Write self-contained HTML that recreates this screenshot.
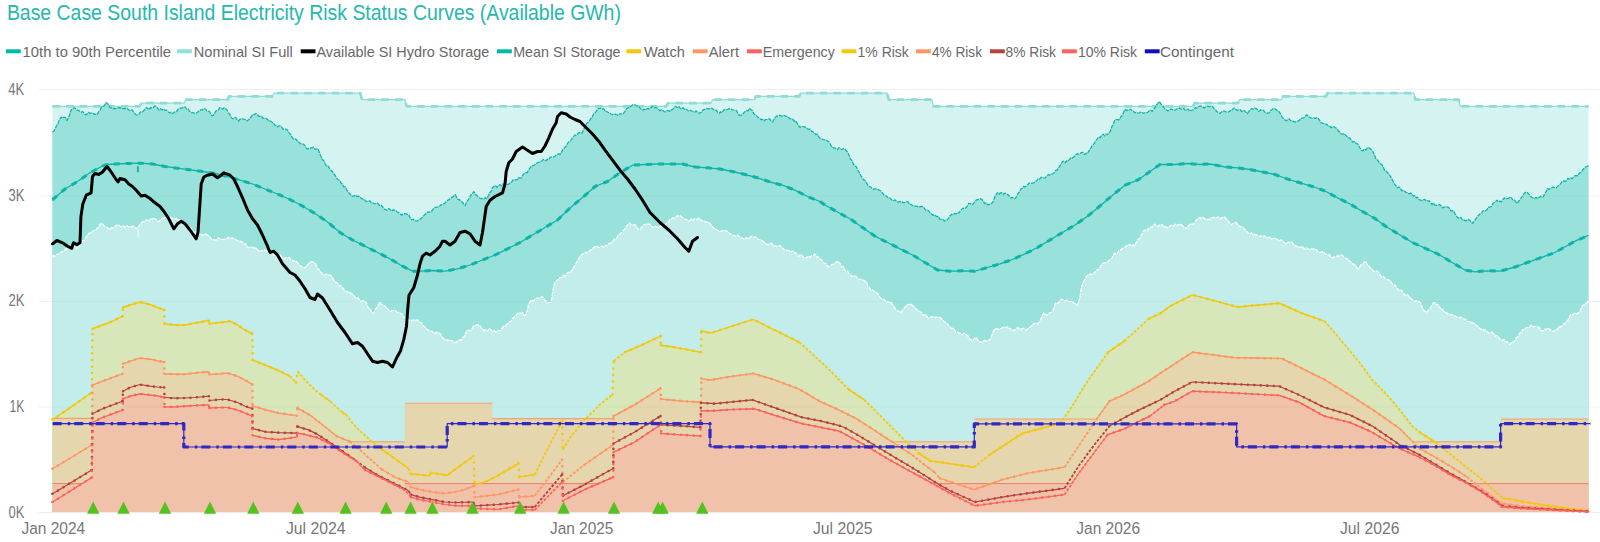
<!DOCTYPE html>
<html><head><meta charset="utf-8"><title>Risk Status Curves</title>
<style>html,body{margin:0;padding:0;background:#fff;width:1600px;height:542px;overflow:hidden}
svg{display:block;font-family:"Liberation Sans",sans-serif}</style></head>
<body>
<svg width="1600" height="542" viewBox="0 0 1600 542" font-family="Liberation Sans, sans-serif"><rect x="0" y="0" width="1600" height="542" fill="#ffffff"/>
<line x1="39" y1="89.5" x2="1600" y2="89.5" stroke="#efefef" stroke-width="1.2"/>
<line x1="39" y1="196.0" x2="1600" y2="196.0" stroke="#efefef" stroke-width="1.2"/>
<line x1="39" y1="301.5" x2="1600" y2="301.5" stroke="#efefef" stroke-width="1.2"/>
<line x1="39" y1="407.0" x2="1600" y2="407.0" stroke="#efefef" stroke-width="1.2"/>
<line x1="39" y1="512.5" x2="1600" y2="512.5" stroke="#ececec" stroke-width="1"/>
<polygon points="52.4,512.0 52.4,106.3 53.0,106.3 97.7,106.3 139.6,106.3 141.1,103.1 184.3,103.1 185.8,99.7 227.6,99.7 229.1,96.3 272.4,96.3 273.9,93.2 315.7,93.2 360.4,93.2 361.9,99.7 405.1,99.7 406.6,106.3 448.4,106.3 493.2,106.3 536.5,106.3 581.2,106.3 626.0,106.3 666.4,106.3 667.9,103.1 711.1,103.1 712.6,99.7 754.4,99.7 755.9,96.3 799.1,96.3 800.6,93.2 842.4,93.2 887.2,93.2 888.7,99.7 931.9,99.7 933.4,106.3 975.2,106.3 1019.9,106.3 1063.2,106.3 1108.0,106.3 1152.7,106.3 1193.1,106.3 1194.6,103.1 1237.9,103.1 1239.4,99.7 1281.2,99.7 1282.7,96.3 1325.9,96.3 1327.4,93.2 1369.2,93.2 1413.9,93.2 1415.4,99.7 1458.7,99.7 1460.2,106.3 1502.0,106.3 1546.7,106.3 1588.5,106.3 1588.5,512.0" fill="#d5f3f1" />
<polygon points="52.4,512.0 52.4,132.0 53.8,131.3 55.3,128.4 56.7,125.5 58.2,123.0 59.6,119.5 61.1,117.1 62.5,118.3 63.9,117.1 65.4,117.6 66.8,120.6 68.3,118.3 69.7,114.8 71.2,109.9 72.6,109.5 74.0,107.8 75.5,108.5 76.9,110.2 78.4,110.3 79.8,111.3 81.3,112.3 82.7,111.5 84.2,113.6 85.6,114.8 87.0,114.1 88.5,112.3 89.9,113.5 91.4,112.8 92.8,113.4 94.3,114.3 95.7,114.2 97.1,114.8 98.6,112.0 100.0,110.3 101.5,107.4 102.9,106.5 104.4,105.4 105.8,102.5 107.2,103.4 108.7,104.9 110.1,107.6 111.6,107.8 113.0,108.7 114.5,108.4 115.9,108.6 117.3,108.1 118.8,107.6 120.2,107.8 121.7,107.9 123.1,108.7 124.6,108.4 126.0,108.8 127.4,108.7 128.9,110.1 130.3,110.5 131.8,109.6 133.2,111.6 134.7,113.5 136.1,114.8 137.5,115.0 139.0,114.2 140.4,111.9 141.9,112.2 143.3,111.2 144.8,109.5 146.2,107.5 147.7,108.5 149.1,109.6 150.5,107.4 152.0,108.2 153.4,107.4 154.9,106.0 156.3,106.4 157.8,108.4 159.2,110.0 160.6,108.7 162.1,110.0 163.5,109.0 165.0,110.4 166.4,110.1 167.9,111.6 169.3,112.8 170.7,112.3 172.2,113.8 173.6,112.8 175.1,111.8 176.5,111.6 178.0,109.4 179.4,108.4 180.8,108.0 182.3,108.0 183.7,107.3 185.2,106.8 186.6,109.2 188.1,109.0 189.5,111.3 190.9,112.8 192.4,112.5 193.8,113.0 195.3,113.5 196.7,112.8 198.2,111.8 199.6,110.7 201.0,109.8 202.5,109.8 203.9,108.4 205.4,109.0 206.8,110.9 208.3,111.0 209.7,111.9 211.2,115.0 212.6,115.8 214.0,114.5 215.5,111.6 216.9,110.6 218.4,110.1 219.8,107.6 221.3,108.5 222.7,109.1 224.1,107.7 225.6,108.7 227.0,110.0 228.5,112.9 229.9,114.6 231.4,117.6 232.8,118.8 234.2,117.7 235.7,117.5 237.1,119.6 238.6,121.0 240.0,119.2 241.5,118.7 242.9,119.0 244.3,119.3 245.8,120.1 247.2,120.9 248.7,119.6 250.1,118.4 251.6,116.1 253.0,114.2 254.4,114.6 255.9,113.5 257.3,114.7 258.8,116.3 260.2,116.3 261.7,116.3 263.1,118.4 264.6,118.2 266.0,118.3 267.4,119.4 268.9,121.2 270.3,121.0 271.8,122.0 273.2,123.0 274.7,125.2 276.1,125.3 277.5,126.8 279.0,125.8 280.4,126.0 281.9,127.4 283.3,129.3 284.8,129.4 286.2,129.2 287.6,130.2 289.1,132.9 290.5,134.2 292.0,137.2 293.4,139.2 294.9,138.9 296.3,139.4 297.7,141.5 299.2,142.4 300.6,143.7 302.1,143.9 303.5,144.2 305.0,145.6 306.4,148.6 307.8,148.9 309.3,148.2 310.7,147.9 312.2,147.6 313.6,147.2 315.1,149.5 316.5,149.0 317.9,148.7 319.4,152.5 320.8,156.1 322.3,159.5 323.7,160.6 325.2,163.7 326.6,166.2 328.1,166.2 329.5,168.2 330.9,170.2 332.4,171.5 333.8,173.7 335.3,175.6 336.7,178.1 338.2,179.8 339.6,180.4 341.0,183.0 342.5,184.2 343.9,187.0 345.4,186.9 346.8,190.1 348.3,191.9 349.7,193.8 351.1,195.1 352.6,196.2 354.0,196.2 355.5,194.9 356.9,196.6 358.4,196.2 359.8,196.6 361.2,198.3 362.7,199.1 364.1,199.3 365.6,201.2 367.0,201.5 368.5,201.1 369.9,200.8 371.3,202.6 372.8,202.7 374.2,203.9 375.7,203.5 377.1,203.0 378.6,204.2 380.0,206.0 381.4,205.4 382.9,207.3 384.3,209.0 385.8,209.8 387.2,210.4 388.7,208.6 390.1,209.6 391.6,211.1 393.0,209.8 394.4,210.1 395.9,210.7 397.3,212.0 398.8,212.8 400.2,213.7 401.7,215.2 403.1,213.9 404.5,213.6 406.0,213.9 407.4,214.4 408.9,214.9 410.3,218.2 411.8,219.9 413.2,219.2 414.6,220.5 416.1,221.1 417.5,221.0 419.0,219.5 420.4,219.0 421.9,217.8 423.3,216.3 424.7,214.6 426.2,213.6 427.6,212.0 429.1,212.0 430.5,212.1 432.0,210.8 433.4,208.8 434.8,207.6 436.3,207.1 437.7,207.0 439.2,206.8 440.6,204.9 442.1,204.6 443.5,204.1 445.0,203.0 446.4,201.4 447.8,200.2 449.3,199.7 450.7,198.0 452.2,197.4 453.6,196.2 455.1,194.7 456.5,196.9 457.9,199.4 459.4,199.7 460.8,201.1 462.3,202.0 463.7,204.1 465.2,205.5 466.6,201.8 468.0,200.2 469.5,197.9 470.9,194.9 472.4,193.7 473.8,191.7 475.3,194.0 476.7,195.2 478.1,196.9 479.6,198.0 481.0,198.3 482.5,198.8 483.9,198.8 485.4,197.7 486.8,198.7 488.2,196.0 489.7,192.7 491.1,191.5 492.6,187.5 494.0,186.4 495.5,185.7 496.9,187.4 498.3,186.0 499.8,184.6 501.2,185.8 502.7,184.0 504.1,184.8 505.6,184.4 507.0,184.4 508.5,184.4 509.9,183.0 511.3,182.7 512.8,180.0 514.2,180.5 515.7,179.7 517.1,179.7 518.6,177.6 520.0,178.1 521.4,178.0 522.9,174.9 524.3,173.3 525.8,172.7 527.2,172.6 528.7,170.0 530.1,167.8 531.5,166.1 533.0,165.6 534.4,165.1 535.9,163.7 537.3,162.8 538.8,162.2 540.2,161.5 541.6,161.1 543.1,159.6 544.5,159.6 546.0,160.7 547.4,159.3 548.9,159.2 550.3,157.1 551.7,157.2 553.2,157.1 554.6,156.5 556.1,155.3 557.5,154.3 559.0,153.9 560.4,154.1 561.8,151.6 563.3,148.8 564.7,147.6 566.2,146.3 567.6,143.4 569.1,141.7 570.5,141.0 572.0,138.5 573.4,136.9 574.8,135.2 576.3,135.1 577.7,133.8 579.2,132.5 580.6,132.6 582.1,133.1 583.5,129.6 584.9,127.3 586.4,123.8 587.8,122.4 589.3,121.0 590.7,118.9 592.2,117.0 593.6,114.1 595.0,112.8 596.5,110.8 597.9,108.6 599.4,108.5 600.8,108.2 602.3,109.2 603.7,108.6 605.1,111.3 606.6,111.5 608.0,112.3 609.5,112.7 610.9,114.0 612.4,114.7 613.8,114.4 615.2,114.1 616.7,114.8 618.1,115.4 619.6,113.9 621.0,113.8 622.5,114.3 623.9,112.8 625.4,110.8 626.8,108.5 628.2,107.9 629.7,106.6 631.1,106.1 632.6,104.8 634.0,104.6 635.5,105.0 636.9,106.0 638.3,106.3 639.8,107.9 641.2,109.3 642.7,110.3 644.1,109.1 645.6,110.1 647.0,108.9 648.4,108.4 649.9,109.0 651.3,107.3 652.8,106.3 654.2,107.9 655.7,107.5 657.1,108.0 658.5,109.3 660.0,110.7 661.4,109.7 662.9,110.5 664.3,111.6 665.8,111.9 667.2,110.5 668.6,110.6 670.1,111.4 671.5,109.8 673.0,109.1 674.4,107.1 675.9,106.5 677.3,107.6 678.7,106.5 680.2,108.2 681.6,109.2 683.1,107.6 684.5,109.5 686.0,109.1 687.4,110.3 688.9,111.2 690.3,110.4 691.7,111.0 693.2,111.4 694.6,112.2 696.1,111.0 697.5,112.0 699.0,113.2 700.4,112.9 701.8,111.8 703.3,109.6 704.7,109.4 706.2,108.5 707.6,108.9 709.1,108.8 710.5,108.6 711.9,108.1 713.4,109.5 714.8,110.6 716.3,110.2 717.7,112.4 719.2,113.2 720.6,111.8 722.0,112.7 723.5,110.4 724.9,109.5 726.4,109.8 727.8,109.3 729.3,108.5 730.7,108.9 732.1,109.6 733.6,110.0 735.0,110.3 736.5,110.6 737.9,113.3 739.4,115.3 740.8,115.2 742.2,114.8 743.7,113.0 745.1,111.4 746.6,110.4 748.0,111.0 749.5,108.4 750.9,109.5 752.4,110.7 753.8,113.7 755.2,114.8 756.7,116.1 758.1,117.3 759.6,118.2 761.0,119.6 762.5,119.3 763.9,120.9 765.3,119.7 766.8,119.5 768.2,119.0 769.7,118.9 771.1,120.9 772.6,121.9 774.0,119.3 775.4,117.3 776.9,116.1 778.3,115.9 779.8,115.3 781.2,115.9 782.7,116.3 784.1,115.5 785.5,116.2 787.0,116.3 788.4,117.6 789.9,118.8 791.3,118.7 792.8,119.1 794.2,121.2 795.6,120.7 797.1,123.2 798.5,125.4 800.0,127.3 801.4,126.4 802.9,126.5 804.3,126.8 805.8,127.3 807.2,128.8 808.6,129.4 810.1,129.2 811.5,131.3 813.0,131.8 814.4,132.9 815.9,134.6 817.3,134.1 818.7,136.8 820.2,138.5 821.6,138.9 823.1,139.5 824.5,140.0 826.0,139.8 827.4,141.0 828.8,141.6 830.3,144.1 831.7,146.7 833.2,147.6 834.6,147.8 836.1,149.2 837.5,149.7 838.9,147.7 840.4,148.8 841.8,149.5 843.3,148.5 844.7,149.2 846.2,150.7 847.6,152.2 849.0,155.3 850.5,159.2 851.9,160.5 853.4,163.9 854.8,166.1 856.3,166.7 857.7,170.1 859.1,172.2 860.6,175.3 862.0,177.4 863.5,179.6 864.9,180.5 866.4,182.8 867.8,185.0 869.3,186.6 870.7,186.9 872.1,188.7 873.6,189.2 875.0,188.8 876.5,188.9 877.9,189.4 879.4,190.3 880.8,191.0 882.2,192.7 883.7,194.5 885.1,195.4 886.6,196.1 888.0,197.6 889.5,197.8 890.9,198.9 892.3,200.7 893.8,200.5 895.2,199.8 896.7,201.6 898.1,202.2 899.6,201.6 901.0,201.5 902.4,202.1 903.9,202.8 905.3,202.2 906.8,201.4 908.2,202.0 909.7,204.5 911.1,204.4 912.5,205.6 914.0,205.8 915.4,206.2 916.9,206.2 918.3,207.0 919.8,206.8 921.2,206.4 922.6,206.6 924.1,207.8 925.5,210.0 927.0,210.3 928.4,210.7 929.9,212.4 931.3,213.5 932.8,215.4 934.2,214.7 935.6,215.8 937.1,216.7 938.5,216.4 940.0,219.3 941.4,219.3 942.9,219.4 944.3,221.1 945.7,220.2 947.2,219.8 948.6,218.2 950.1,215.9 951.5,214.3 953.0,215.0 954.4,213.6 955.8,213.9 957.3,212.7 958.7,213.1 960.2,211.0 961.6,209.4 963.1,208.1 964.5,208.7 965.9,207.8 967.4,205.8 968.8,203.4 970.3,203.5 971.7,204.6 973.2,204.0 974.6,201.7 976.0,200.3 977.5,199.6 978.9,199.3 980.4,198.8 981.8,199.2 983.3,201.4 984.7,203.6 986.2,203.0 987.6,204.8 989.0,204.4 990.5,204.5 991.9,203.0 993.4,201.3 994.8,196.7 996.3,194.0 997.7,192.8 999.1,194.3 1000.6,192.8 1002.0,192.6 1003.5,194.3 1004.9,193.1 1006.4,193.9 1007.8,194.5 1009.2,196.1 1010.7,198.1 1012.1,197.3 1013.6,198.3 1015.0,198.7 1016.5,196.8 1017.9,193.7 1019.3,192.0 1020.8,189.2 1022.2,188.0 1023.7,186.4 1025.1,186.9 1026.6,185.9 1028.0,184.4 1029.4,183.0 1030.9,183.5 1032.3,183.1 1033.8,182.9 1035.2,181.5 1036.7,180.7 1038.1,178.9 1039.5,179.3 1041.0,177.3 1042.4,177.3 1043.9,178.0 1045.3,177.9 1046.8,175.9 1048.2,174.7 1049.7,175.1 1051.1,174.1 1052.5,173.8 1054.0,173.0 1055.4,170.7 1056.9,170.1 1058.3,168.6 1059.8,165.9 1061.2,163.9 1062.6,161.3 1064.1,161.2 1065.5,162.5 1067.0,160.5 1068.4,160.6 1069.9,159.0 1071.3,157.5 1072.7,157.9 1074.2,156.5 1075.6,154.8 1077.1,153.7 1078.5,154.2 1080.0,153.9 1081.4,152.5 1082.8,152.3 1084.3,154.5 1085.7,153.4 1087.2,153.9 1088.6,151.5 1090.1,149.6 1091.5,146.7 1092.9,144.9 1094.4,143.2 1095.8,140.7 1097.3,138.8 1098.7,136.9 1100.2,137.6 1101.6,135.7 1103.0,134.1 1104.5,135.8 1105.9,134.0 1107.4,134.8 1108.8,132.5 1110.3,131.5 1111.7,126.9 1113.2,124.4 1114.6,120.7 1116.0,119.5 1117.5,119.6 1118.9,119.8 1120.4,117.7 1121.8,115.6 1123.3,113.0 1124.7,109.6 1126.1,110.4 1127.6,110.1 1129.0,110.5 1130.5,109.1 1131.9,110.3 1133.4,111.1 1134.8,112.8 1136.2,112.2 1137.7,113.0 1139.1,113.1 1140.6,111.9 1142.0,112.5 1143.5,113.3 1144.9,112.7 1146.3,112.7 1147.8,112.4 1149.2,110.8 1150.7,110.1 1152.1,111.4 1153.6,109.3 1155.0,107.6 1156.4,105.0 1157.9,103.3 1159.3,101.5 1160.8,103.7 1162.2,105.4 1163.7,107.4 1165.1,109.3 1166.6,109.8 1168.0,111.1 1169.4,110.0 1170.9,108.9 1172.3,109.8 1173.8,110.0 1175.2,110.2 1176.7,108.9 1178.1,109.0 1179.5,107.9 1181.0,109.0 1182.4,109.3 1183.9,108.4 1185.3,110.3 1186.8,109.5 1188.2,109.2 1189.6,111.3 1191.1,110.3 1192.5,110.0 1194.0,109.8 1195.4,107.6 1196.9,108.1 1198.3,106.7 1199.7,106.1 1201.2,105.9 1202.6,107.1 1204.1,107.9 1205.5,107.1 1207.0,106.1 1208.4,106.3 1209.8,106.7 1211.3,106.4 1212.7,106.6 1214.2,108.8 1215.6,110.0 1217.1,111.8 1218.5,112.9 1219.9,113.3 1221.4,112.2 1222.8,111.1 1224.3,111.1 1225.7,111.7 1227.2,112.4 1228.6,112.0 1230.1,110.6 1231.5,110.9 1232.9,108.9 1234.4,107.9 1235.8,109.2 1237.3,110.4 1238.7,109.8 1240.2,109.7 1241.6,111.6 1243.0,110.6 1244.5,110.7 1245.9,112.3 1247.4,113.6 1248.8,111.7 1250.3,109.8 1251.7,108.6 1253.1,109.2 1254.6,108.1 1256.0,108.5 1257.5,109.5 1258.9,111.3 1260.4,109.9 1261.8,110.1 1263.2,110.1 1264.7,111.9 1266.1,113.0 1267.6,113.2 1269.0,112.9 1270.5,110.8 1271.9,109.8 1273.3,108.4 1274.8,108.7 1276.2,109.8 1277.7,111.0 1279.1,111.7 1280.6,114.1 1282.0,116.9 1283.4,118.4 1284.9,120.0 1286.3,120.7 1287.8,119.7 1289.2,119.0 1290.7,120.6 1292.1,121.5 1293.6,121.3 1295.0,122.2 1296.4,121.9 1297.9,121.1 1299.3,120.3 1300.8,118.5 1302.2,118.1 1303.7,117.9 1305.1,117.0 1306.5,114.9 1308.0,115.7 1309.4,117.2 1310.9,118.0 1312.3,118.1 1313.8,117.8 1315.2,118.3 1316.6,117.8 1318.1,118.0 1319.5,120.1 1321.0,122.7 1322.4,123.2 1323.9,123.5 1325.3,123.8 1326.7,124.3 1328.2,125.9 1329.6,126.0 1331.1,127.8 1332.5,126.6 1334.0,126.7 1335.4,127.7 1336.8,128.6 1338.3,130.8 1339.7,132.3 1341.2,134.0 1342.6,134.3 1344.1,133.5 1345.5,135.2 1347.0,136.6 1348.4,137.7 1349.8,138.2 1351.3,140.1 1352.7,142.2 1354.2,141.3 1355.6,143.0 1357.1,143.5 1358.5,145.0 1359.9,147.8 1361.4,150.3 1362.8,151.0 1364.3,149.0 1365.7,150.0 1367.2,148.1 1368.6,147.6 1370.0,148.5 1371.5,149.8 1372.9,151.4 1374.4,155.2 1375.8,158.5 1377.3,159.7 1378.7,161.7 1380.1,163.5 1381.6,164.5 1383.0,166.2 1384.5,170.2 1385.9,170.7 1387.4,172.5 1388.8,174.3 1390.2,175.9 1391.7,178.6 1393.1,181.5 1394.6,184.2 1396.0,185.8 1397.5,188.0 1398.9,187.0 1400.3,187.9 1401.8,190.9 1403.2,190.4 1404.7,191.3 1406.1,192.5 1407.6,192.6 1409.0,193.8 1410.5,193.2 1411.9,193.7 1413.3,196.3 1414.8,195.6 1416.2,197.8 1417.7,197.2 1419.1,199.5 1420.6,200.2 1422.0,200.7 1423.4,199.8 1424.9,199.3 1426.3,201.3 1427.8,200.9 1429.2,200.9 1430.7,203.0 1432.1,204.5 1433.5,203.0 1435.0,205.2 1436.4,205.3 1437.9,205.2 1439.3,204.6 1440.8,205.3 1442.2,207.8 1443.6,207.3 1445.1,206.8 1446.5,206.9 1448.0,207.1 1449.4,208.2 1450.9,211.0 1452.3,210.6 1453.7,211.1 1455.2,214.1 1456.6,216.4 1458.1,218.1 1459.5,217.2 1461.0,217.5 1462.4,220.0 1463.8,219.9 1465.3,220.8 1466.7,220.3 1468.2,219.4 1469.6,220.2 1471.1,222.0 1472.5,223.4 1474.0,221.5 1475.4,219.4 1476.8,217.7 1478.3,215.7 1479.7,214.2 1481.2,213.9 1482.6,211.3 1484.1,210.6 1485.5,210.7 1486.9,210.0 1488.4,207.1 1489.8,207.3 1491.3,206.5 1492.7,203.7 1494.2,202.5 1495.6,201.4 1497.0,200.2 1498.5,202.0 1499.9,201.1 1501.4,201.8 1502.8,199.7 1504.3,198.0 1505.7,199.0 1507.1,198.6 1508.6,198.4 1510.0,196.9 1511.5,198.0 1512.9,200.0 1514.4,199.9 1515.8,201.9 1517.2,203.4 1518.7,201.0 1520.1,199.7 1521.6,197.2 1523.0,195.3 1524.5,193.0 1525.9,192.2 1527.4,192.7 1528.8,194.0 1530.2,196.0 1531.7,197.3 1533.1,198.0 1534.6,198.6 1536.0,197.3 1537.5,198.7 1538.9,197.4 1540.3,196.4 1541.8,197.1 1543.2,196.9 1544.7,193.7 1546.1,191.7 1547.6,188.5 1549.0,189.6 1550.4,188.4 1551.9,187.6 1553.3,187.0 1554.8,187.5 1556.2,187.9 1557.7,186.4 1559.1,184.8 1560.5,184.0 1562.0,181.5 1563.4,180.8 1564.9,181.3 1566.3,180.9 1567.8,178.2 1569.2,179.1 1570.6,177.9 1572.1,178.7 1573.5,177.1 1575.0,175.6 1576.4,175.5 1577.9,175.8 1579.3,173.4 1580.7,172.5 1582.2,170.7 1583.6,168.7 1585.1,167.2 1586.5,166.6 1588.0,165.7 1588.5,165.8 1588.5,512.0" fill="#98e2db" />
<polygon points="52.4,512.0 52.4,257.0 53.8,255.7 55.3,256.1 56.7,254.3 58.2,254.4 59.6,253.6 61.1,251.9 62.5,252.0 63.9,250.0 65.4,249.7 66.8,248.0 68.3,246.8 69.7,247.4 71.2,248.7 72.6,247.3 74.0,246.6 75.5,247.3 76.9,248.6 78.4,246.9 79.8,244.6 81.3,244.4 82.7,240.7 84.2,240.4 85.6,238.0 87.0,235.8 88.5,233.9 89.9,232.9 91.4,233.2 92.8,231.0 94.3,230.5 95.7,229.9 97.1,228.2 98.6,227.3 100.0,224.8 101.5,223.3 102.9,224.1 104.4,226.3 105.8,227.1 107.2,227.5 108.7,228.9 110.1,228.9 111.6,227.6 113.0,227.9 114.5,227.5 115.9,225.5 117.3,225.0 118.8,225.0 120.2,226.3 121.7,226.7 123.1,225.7 124.6,227.3 126.0,225.7 127.4,225.9 128.9,227.2 130.3,226.2 131.8,226.9 133.2,226.0 134.7,227.6 136.1,228.9 137.5,227.4 139.0,226.4 140.4,223.4 141.9,222.2 143.3,221.6 144.8,220.9 146.2,220.0 147.7,220.3 149.1,220.6 150.5,219.0 152.0,219.1 153.4,217.7 154.9,219.0 156.3,219.7 157.8,221.3 159.2,221.4 160.6,219.4 162.1,218.4 163.5,218.4 165.0,216.9 166.4,217.7 167.9,217.5 169.3,217.4 170.7,217.2 172.2,219.1 173.6,218.4 175.1,218.3 176.5,218.8 178.0,220.6 179.4,219.6 180.8,220.4 182.3,221.4 183.7,223.1 185.2,224.2 186.6,226.0 188.1,226.0 189.5,227.0 190.9,228.0 192.4,230.8 193.8,232.8 195.3,231.8 196.7,231.8 198.2,232.4 199.6,233.2 201.0,234.3 202.5,235.2 203.9,234.8 205.4,233.9 206.8,234.8 208.3,235.5 209.7,236.8 211.2,239.0 212.6,239.7 214.0,239.8 215.5,240.1 216.9,239.9 218.4,237.8 219.8,239.0 221.3,239.1 222.7,239.3 224.1,239.7 225.6,238.7 227.0,238.3 228.5,237.4 229.9,238.5 231.4,238.0 232.8,238.1 234.2,238.8 235.7,239.5 237.1,240.7 238.6,240.8 240.0,241.0 241.5,241.9 242.9,242.6 244.3,244.1 245.8,244.1 247.2,246.8 248.7,247.7 250.1,247.0 251.6,247.2 253.0,247.7 254.4,248.0 255.9,247.6 257.3,249.7 258.8,251.3 260.2,250.8 261.7,250.9 263.1,250.0 264.6,249.7 266.0,250.6 267.4,251.0 268.9,253.1 270.3,252.5 271.8,252.0 273.2,254.7 274.7,255.1 276.1,254.3 277.5,255.0 279.0,254.0 280.4,255.1 281.9,257.1 283.3,258.2 284.8,258.5 286.2,257.6 287.6,257.6 289.1,257.3 290.5,259.2 292.0,259.9 293.4,261.4 294.9,261.2 296.3,261.1 297.7,263.1 299.2,265.1 300.6,266.1 302.1,266.8 303.5,267.6 305.0,268.1 306.4,265.5 307.8,264.6 309.3,263.1 310.7,261.7 312.2,261.6 313.6,262.5 315.1,263.3 316.5,266.1 317.9,269.1 319.4,269.9 320.8,272.1 322.3,273.8 323.7,275.1 325.2,274.5 326.6,274.1 328.1,274.4 329.5,274.9 330.9,275.6 332.4,277.7 333.8,280.1 335.3,281.8 336.7,282.5 338.2,284.0 339.6,286.0 341.0,285.6 342.5,287.7 343.9,289.8 345.4,291.0 346.8,292.0 348.3,292.2 349.7,291.8 351.1,293.8 352.6,294.0 354.0,296.0 355.5,298.0 356.9,297.8 358.4,298.2 359.8,300.4 361.2,301.4 362.7,300.8 364.1,300.7 365.6,301.5 367.0,305.5 368.5,308.2 369.9,308.6 371.3,311.7 372.8,314.0 374.2,312.0 375.7,309.2 377.1,307.5 378.6,304.5 380.0,301.8 381.4,304.4 382.9,305.1 384.3,305.3 385.8,307.3 387.2,307.9 388.7,310.1 390.1,311.8 391.6,310.7 393.0,310.5 394.4,310.7 395.9,311.0 397.3,312.4 398.8,312.4 400.2,313.3 401.7,313.7 403.1,316.8 404.5,317.3 406.0,318.4 407.4,319.2 408.9,320.5 410.3,319.7 411.8,320.8 413.2,320.2 414.6,319.9 416.1,320.3 417.5,320.0 419.0,321.7 420.4,322.5 421.9,323.0 423.3,326.1 424.7,326.6 426.2,328.2 427.6,329.9 429.1,330.7 430.5,330.7 432.0,331.6 433.4,332.6 434.8,333.7 436.3,332.3 437.7,333.0 439.2,333.0 440.6,334.3 442.1,337.2 443.5,338.8 445.0,339.3 446.4,339.9 447.8,340.6 449.3,339.7 450.7,340.5 452.2,340.9 453.6,341.5 455.1,342.8 456.5,341.9 457.9,341.0 459.4,340.0 460.8,340.3 462.3,338.2 463.7,336.7 465.2,335.1 466.6,331.3 468.0,330.1 469.5,330.6 470.9,330.3 472.4,327.8 473.8,326.0 475.3,325.8 476.7,324.7 478.1,325.2 479.6,325.3 481.0,327.4 482.5,329.1 483.9,330.7 485.4,329.6 486.8,330.7 488.2,330.3 489.7,328.3 491.1,329.8 492.6,331.4 494.0,330.2 495.5,332.0 496.9,331.5 498.3,330.3 499.8,330.7 501.2,330.0 502.7,327.2 504.1,326.1 505.6,325.4 507.0,324.1 508.5,322.5 509.9,321.6 511.3,321.1 512.8,317.9 514.2,317.3 515.7,316.2 517.1,313.9 518.6,313.0 520.0,312.9 521.4,313.5 522.9,312.9 524.3,315.5 525.8,314.9 527.2,310.9 528.7,304.2 530.1,301.8 531.5,300.1 533.0,301.2 534.4,300.0 535.9,298.6 537.3,298.0 538.8,298.6 540.2,298.2 541.6,297.1 543.1,297.2 544.5,300.1 546.0,301.2 547.4,302.8 548.9,302.3 550.3,302.5 551.7,299.4 553.2,289.0 554.6,283.5 556.1,281.0 557.5,279.9 559.0,279.7 560.4,277.1 561.8,277.6 563.3,275.1 564.7,275.8 566.2,274.4 567.6,272.9 569.1,272.2 570.5,272.6 572.0,270.4 573.4,267.5 574.8,266.0 576.3,263.2 577.7,260.4 579.2,258.0 580.6,255.7 582.1,254.5 583.5,253.5 584.9,252.2 586.4,253.0 587.8,251.7 589.3,251.2 590.7,249.7 592.2,249.1 593.6,247.4 595.0,246.9 596.5,245.9 597.9,247.3 599.4,247.4 600.8,246.2 602.3,246.3 603.7,247.5 605.1,245.5 606.6,245.8 608.0,244.4 609.5,243.3 610.9,243.3 612.4,241.6 613.8,239.9 615.2,238.7 616.7,238.2 618.1,235.2 619.6,234.3 621.0,233.1 622.5,231.8 623.9,229.9 625.4,228.2 626.8,225.9 628.2,224.4 629.7,222.9 631.1,224.9 632.6,224.9 634.0,224.9 635.5,224.9 636.9,227.4 638.3,229.2 639.8,229.7 641.2,227.8 642.7,225.9 644.1,224.6 645.6,224.3 647.0,223.7 648.4,224.3 649.9,224.1 651.3,226.2 652.8,227.4 654.2,226.8 655.7,225.8 657.1,227.6 658.5,226.7 660.0,226.6 661.4,225.6 662.9,225.9 664.3,225.2 665.8,224.4 667.2,222.5 668.6,221.8 670.1,219.4 671.5,219.0 673.0,218.0 674.4,218.1 675.9,216.9 677.3,215.9 678.7,215.9 680.2,215.6 681.6,217.0 683.1,217.8 684.5,219.0 686.0,219.5 687.4,220.1 688.9,221.0 690.3,220.1 691.7,219.1 693.2,220.5 694.6,218.7 696.1,219.4 697.5,219.5 699.0,218.0 700.4,219.7 701.8,220.9 703.3,220.9 704.7,221.3 706.2,222.6 707.6,221.8 709.1,223.0 710.5,224.1 711.9,226.2 713.4,227.8 714.8,229.2 716.3,229.4 717.7,230.7 719.2,231.1 720.6,231.7 722.0,231.0 723.5,230.3 724.9,230.6 726.4,231.4 727.8,231.2 729.3,233.5 730.7,234.1 732.1,234.7 733.6,235.3 735.0,235.9 736.5,236.0 737.9,234.9 739.4,236.8 740.8,238.0 742.2,238.2 743.7,238.6 745.1,239.4 746.6,237.7 748.0,238.6 749.5,237.7 750.9,236.5 752.4,236.4 753.8,237.7 755.2,236.7 756.7,237.8 758.1,239.4 759.6,239.7 761.0,239.9 762.5,240.8 763.9,242.3 765.3,243.7 766.8,244.1 768.2,244.7 769.7,243.5 771.1,243.3 772.6,243.8 774.0,245.8 775.4,245.7 776.9,246.7 778.3,245.8 779.8,245.7 781.2,246.4 782.7,248.3 784.1,249.6 785.5,250.5 787.0,250.0 788.4,250.6 789.9,251.1 791.3,251.6 792.8,251.0 794.2,253.3 795.6,252.7 797.1,255.0 798.5,256.4 800.0,254.6 801.4,255.1 802.9,256.7 804.3,258.3 805.8,257.8 807.2,257.2 808.6,256.1 810.1,257.4 811.5,255.7 813.0,255.7 814.4,254.1 815.9,255.1 817.3,257.6 818.7,257.0 820.2,259.1 821.6,259.8 823.1,261.9 824.5,263.4 826.0,263.4 827.4,266.1 828.8,266.9 830.3,266.2 831.7,264.3 833.2,264.2 834.6,263.6 836.1,262.4 837.5,260.9 838.9,262.6 840.4,264.1 841.8,267.1 843.3,266.9 844.7,269.7 846.2,271.8 847.6,271.2 849.0,273.7 850.5,274.8 851.9,276.5 853.4,275.8 854.8,276.0 856.3,276.5 857.7,278.9 859.1,279.3 860.6,279.2 862.0,279.6 863.5,280.4 864.9,281.1 866.4,282.3 867.8,286.0 869.3,287.1 870.7,290.2 872.1,290.1 873.6,290.6 875.0,292.1 876.5,292.4 877.9,293.7 879.4,296.6 880.8,298.2 882.2,299.2 883.7,299.5 885.1,300.8 886.6,302.0 888.0,301.7 889.5,302.5 890.9,301.8 892.3,304.6 893.8,306.0 895.2,308.6 896.7,310.4 898.1,311.2 899.6,311.7 901.0,313.1 902.4,310.1 903.9,308.8 905.3,307.0 906.8,305.1 908.2,304.6 909.7,304.4 911.1,303.8 912.5,305.9 914.0,306.7 915.4,308.6 916.9,309.9 918.3,310.6 919.8,311.8 921.2,312.3 922.6,314.8 924.1,315.1 925.5,314.6 927.0,316.7 928.4,318.2 929.9,317.7 931.3,316.8 932.8,316.8 934.2,316.7 935.6,317.6 937.1,317.1 938.5,317.3 940.0,317.5 941.4,318.6 942.9,320.1 944.3,321.9 945.7,322.5 947.2,323.7 948.6,325.7 950.1,327.2 951.5,328.3 953.0,328.3 954.4,329.4 955.8,332.5 957.3,332.1 958.7,332.7 960.2,333.6 961.6,334.8 963.1,333.7 964.5,333.3 965.9,333.9 967.4,335.4 968.8,337.0 970.3,339.7 971.7,340.2 973.2,340.6 974.6,338.2 976.0,337.4 977.5,339.5 978.9,341.5 980.4,341.8 981.8,342.6 983.3,341.1 984.7,340.4 986.2,341.1 987.6,340.7 989.0,340.2 990.5,338.9 991.9,334.9 993.4,331.3 994.8,328.7 996.3,328.7 997.7,328.9 999.1,329.4 1000.6,328.7 1002.0,327.8 1003.5,327.3 1004.9,327.1 1006.4,327.7 1007.8,326.8 1009.2,328.8 1010.7,328.3 1012.1,330.3 1013.6,330.8 1015.0,329.7 1016.5,328.3 1017.9,327.8 1019.3,328.6 1020.8,329.3 1022.2,328.6 1023.7,328.3 1025.1,329.9 1026.6,330.1 1028.0,328.8 1029.4,327.2 1030.9,327.0 1032.3,324.6 1033.8,323.8 1035.2,323.3 1036.7,324.1 1038.1,323.2 1039.5,321.9 1041.0,318.7 1042.4,315.2 1043.9,312.7 1045.3,314.6 1046.8,315.0 1048.2,314.0 1049.7,312.7 1051.1,312.4 1052.5,311.9 1054.0,307.6 1055.4,303.0 1056.9,302.9 1058.3,303.3 1059.8,300.9 1061.2,299.2 1062.6,299.5 1064.1,300.0 1065.5,301.0 1067.0,299.9 1068.4,301.1 1069.9,301.6 1071.3,301.4 1072.7,301.2 1074.2,303.7 1075.6,303.6 1077.1,305.4 1078.5,302.3 1080.0,297.2 1081.4,287.7 1082.8,283.0 1084.3,280.6 1085.7,277.7 1087.2,275.8 1088.6,274.5 1090.1,274.1 1091.5,274.3 1092.9,274.9 1094.4,272.5 1095.8,271.3 1097.3,269.4 1098.7,270.0 1100.2,267.3 1101.6,265.0 1103.0,263.2 1104.5,262.6 1105.9,263.0 1107.4,262.3 1108.8,260.7 1110.3,259.9 1111.7,258.5 1113.2,255.5 1114.6,253.2 1116.0,253.8 1117.5,253.2 1118.9,250.3 1120.4,250.2 1121.8,248.9 1123.3,248.0 1124.7,247.3 1126.1,246.2 1127.6,244.9 1129.0,244.9 1130.5,244.9 1131.9,246.5 1133.4,244.7 1134.8,246.0 1136.2,242.6 1137.7,239.9 1139.1,238.7 1140.6,237.0 1142.0,233.8 1143.5,230.9 1144.9,230.4 1146.3,229.4 1147.8,230.2 1149.2,228.0 1150.7,226.9 1152.1,227.6 1153.6,224.9 1155.0,224.2 1156.4,225.9 1157.9,226.8 1159.3,225.3 1160.8,224.6 1162.2,224.5 1163.7,227.2 1165.1,226.7 1166.6,227.4 1168.0,228.0 1169.4,226.4 1170.9,225.2 1172.3,226.4 1173.8,225.8 1175.2,224.3 1176.7,225.4 1178.1,224.9 1179.5,224.6 1181.0,223.8 1182.4,225.7 1183.9,227.4 1185.3,227.6 1186.8,228.7 1188.2,226.1 1189.6,224.3 1191.1,223.6 1192.5,224.2 1194.0,224.0 1195.4,221.7 1196.9,219.5 1198.3,218.4 1199.7,217.5 1201.2,218.7 1202.6,217.3 1204.1,218.4 1205.5,218.8 1207.0,219.3 1208.4,219.5 1209.8,219.1 1211.3,218.0 1212.7,217.5 1214.2,217.3 1215.6,218.6 1217.1,217.3 1218.5,217.1 1219.9,218.7 1221.4,218.2 1222.8,217.4 1224.3,217.0 1225.7,218.7 1227.2,219.3 1228.6,221.9 1230.1,223.3 1231.5,224.7 1232.9,223.6 1234.4,222.7 1235.8,222.5 1237.3,223.9 1238.7,225.8 1240.2,226.5 1241.6,226.6 1243.0,227.6 1244.5,229.2 1245.9,230.6 1247.4,231.9 1248.8,233.4 1250.3,234.0 1251.7,232.8 1253.1,234.6 1254.6,234.2 1256.0,235.0 1257.5,235.2 1258.9,236.6 1260.4,236.0 1261.8,236.1 1263.2,236.2 1264.7,235.8 1266.1,237.8 1267.6,238.0 1269.0,237.4 1270.5,237.3 1271.9,239.1 1273.3,238.6 1274.8,237.6 1276.2,239.1 1277.7,239.8 1279.1,241.4 1280.6,239.9 1282.0,240.4 1283.4,241.9 1284.9,243.1 1286.3,244.2 1287.8,242.3 1289.2,242.3 1290.7,241.9 1292.1,242.1 1293.6,244.8 1295.0,245.2 1296.4,246.7 1297.9,246.1 1299.3,247.4 1300.8,247.1 1302.2,246.5 1303.7,248.0 1305.1,249.5 1306.5,248.0 1308.0,248.8 1309.4,249.5 1310.9,248.9 1312.3,249.2 1313.8,249.0 1315.2,249.3 1316.6,249.8 1318.1,251.4 1319.5,252.6 1321.0,252.2 1322.4,251.6 1323.9,252.5 1325.3,254.3 1326.7,254.1 1328.2,254.7 1329.6,254.9 1331.1,257.1 1332.5,257.9 1334.0,257.1 1335.4,256.6 1336.8,256.2 1338.3,256.0 1339.7,255.8 1341.2,255.0 1342.6,255.4 1344.1,257.5 1345.5,258.2 1347.0,258.6 1348.4,259.3 1349.8,261.9 1351.3,262.2 1352.7,263.6 1354.2,264.4 1355.6,265.5 1357.1,268.0 1358.5,268.8 1359.9,266.5 1361.4,264.4 1362.8,264.3 1364.3,262.3 1365.7,261.3 1367.2,264.6 1368.6,265.5 1370.0,267.8 1371.5,268.4 1372.9,270.7 1374.4,271.3 1375.8,271.1 1377.3,271.0 1378.7,273.0 1380.1,274.8 1381.6,277.1 1383.0,276.3 1384.5,277.9 1385.9,278.5 1387.4,279.7 1388.8,279.9 1390.2,280.9 1391.7,282.7 1393.1,285.4 1394.6,285.0 1396.0,286.4 1397.5,288.7 1398.9,290.9 1400.3,290.3 1401.8,290.2 1403.2,293.0 1404.7,295.1 1406.1,295.2 1407.6,294.5 1409.0,297.1 1410.5,297.4 1411.9,299.6 1413.3,300.2 1414.8,301.4 1416.2,300.5 1417.7,302.1 1419.1,301.6 1420.6,303.0 1422.0,306.9 1423.4,310.1 1424.9,311.1 1426.3,312.7 1427.8,311.0 1429.2,309.5 1430.7,307.5 1432.1,304.8 1433.5,302.8 1435.0,302.3 1436.4,305.0 1437.9,304.6 1439.3,306.6 1440.8,308.9 1442.2,308.7 1443.6,311.6 1445.1,311.6 1446.5,312.9 1448.0,313.7 1449.4,314.6 1450.9,314.3 1452.3,314.8 1453.7,315.8 1455.2,316.1 1456.6,317.2 1458.1,317.5 1459.5,317.9 1461.0,317.1 1462.4,318.6 1463.8,319.2 1465.3,319.0 1466.7,320.6 1468.2,321.7 1469.6,321.6 1471.1,321.5 1472.5,323.0 1474.0,323.3 1475.4,324.1 1476.8,326.0 1478.3,326.6 1479.7,328.5 1481.2,329.6 1482.6,328.9 1484.1,330.5 1485.5,329.8 1486.9,331.6 1488.4,332.8 1489.8,332.9 1491.3,332.0 1492.7,333.3 1494.2,333.9 1495.6,336.3 1497.0,335.5 1498.5,337.4 1499.9,339.2 1501.4,339.7 1502.8,340.5 1504.3,339.5 1505.7,341.6 1507.1,341.7 1508.6,343.5 1510.0,344.7 1511.5,342.1 1512.9,341.8 1514.4,341.7 1515.8,338.6 1517.2,337.0 1518.7,335.8 1520.1,332.5 1521.6,331.8 1523.0,329.6 1524.5,329.9 1525.9,327.8 1527.4,327.3 1528.8,328.0 1530.2,325.9 1531.7,325.2 1533.1,326.4 1534.6,326.7 1536.0,326.4 1537.5,326.8 1538.9,327.1 1540.3,329.8 1541.8,330.5 1543.2,331.2 1544.7,329.2 1546.1,329.8 1547.6,328.0 1549.0,328.9 1550.4,330.1 1551.9,330.2 1553.3,331.8 1554.8,330.5 1556.2,329.4 1557.7,329.3 1559.1,326.4 1560.5,327.1 1562.0,325.9 1563.4,324.1 1564.9,323.8 1566.3,321.3 1567.8,320.5 1569.2,317.7 1570.6,314.5 1572.1,314.6 1573.5,314.1 1575.0,313.2 1576.4,314.4 1577.9,312.7 1579.3,312.8 1580.7,309.4 1582.2,305.8 1583.6,305.0 1585.1,303.9 1586.5,303.2 1588.0,301.4 1588.5,301.1 1588.5,512.0" fill="#c2edea" />
<polygon points="52.4,512.0 52.4,419.5 52.7,419.5 65.0,411.2 77.5,402.5 91.8,392.5 92.5,328.8 102.5,325.0 112.5,321.2 122.5,316.2 123.0,307.5 130.0,305.0 140.0,302.0 150.0,304.5 157.5,307.5 164.2,310.0 164.5,323.8 175.0,325.0 185.0,325.0 195.0,323.0 205.0,321.2 208.8,320.0 209.5,323.8 220.0,322.5 230.0,321.2 237.5,325.0 245.0,330.0 252.5,333.8 252.7,360.0 265.0,365.0 277.5,370.0 290.0,376.2 296.2,382.5 297.5,371.2 305.0,380.0 315.0,390.0 321.4,395.0 330.4,401.5 343.3,413.1 345.9,414.4 350.0,420.0 357.4,428.6 369.8,439.8 382.3,449.7 394.7,458.5 408.4,468.4 410.9,474.1 419.6,474.6 429.6,475.9 430.8,472.7 439.6,474.1 447.0,475.4 460.0,465.9 473.7,456.0 474.4,484.6 484.9,482.1 497.4,475.9 518.5,463.4 519.3,477.1 534.7,474.6 547.2,449.7 562.1,421.1 562.9,449.7 572.1,434.8 584.5,419.9 599.5,404.9 612.5,394.6 613.7,361.0 624.9,352.3 644.8,343.6 660.5,336.1 661.0,345.3 674.7,347.3 700.9,352.3 701.4,331.1 710.8,333.1 729.5,326.9 753.2,319.4 774.3,329.9 799.3,342.3 811.7,353.5 824.2,364.8 836.6,377.2 849.1,389.7 864.3,399.9 889.3,424.8 906.7,442.3 919.1,453.5 930.3,460.9 940.0,462.2 974.1,467.2 989.8,454.7 1022.2,433.5 1059.6,423.6 1064.5,417.4 1074.5,402.4 1086.8,382.2 1099.3,364.7 1108.0,352.3 1124.2,341.1 1149.1,318.6 1160.0,313.6 1170.0,306.2 1192.4,294.9 1237.2,306.9 1279.6,303.2 1300.0,312.5 1324.4,321.1 1334.3,332.3 1359.3,362.2 1372.3,380.0 1387.2,395.0 1399.7,409.9 1412.1,426.1 1420.0,432.4 1435.7,442.5 1451.3,455.1 1467.0,467.6 1482.7,480.2 1498.4,494.3 1503.0,498.2 1514.0,499.7 1524.3,502.1 1549.2,505.8 1574.1,509.1 1588.5,510.7 1588.5,512.0" fill="#d8e7b9" />
<polygon points="52.4,512.0 52.4,468.8 52.7,468.8 52.7,418.4 52.8,418.4 91.8,418.4 92.1,418.4 92.5,385.0 102.5,381.2 112.5,377.5 122.5,373.8 123.0,363.8 130.0,361.2 140.0,358.0 150.0,359.2 157.5,360.8 164.2,362.0 164.5,373.8 175.0,374.2 183.8,374.2 183.8,374.2 183.9,374.2 185.0,374.2 195.0,373.0 205.0,372.0 208.8,371.8 209.5,374.5 220.0,373.8 227.5,373.0 237.5,376.2 245.0,380.0 252.3,384.5 252.7,406.0 265.8,409.9 278.7,413.1 296.8,415.7 297.5,407.9 311.0,415.7 324.0,426.0 336.9,436.3 349.8,441.5 350.2,441.8 360.0,441.8 370.0,441.8 382.3,441.8 394.7,441.8 404.8,441.8 404.9,403.2 404.9,403.2 408.4,403.2 410.9,403.2 419.6,403.2 432.1,403.2 444.5,403.2 454.5,403.2 464.5,403.2 474.0,403.2 474.5,403.2 492.2,403.2 492.3,418.6 492.4,418.6 497.4,418.6 518.5,418.6 519.3,418.6 534.7,418.6 547.2,418.6 562.1,418.6 562.9,418.6 584.5,418.6 613.2,418.6 613.5,418.6 613.5,416.1 634.3,404.9 660.5,388.4 661.0,399.1 684.2,401.2 700.9,402.1 701.4,378.5 709.6,380.2 710.0,380.1 710.0,380.1 710.0,380.1 729.5,376.7 753.2,373.5 774.3,379.7 799.3,389.2 820.0,401.4 838.5,409.7 856.9,418.9 875.4,430.9 892.1,441.8 893.8,441.8 912.3,441.8 923.4,441.8 934.1,441.8 940.0,441.8 974.1,441.8 974.5,441.8 974.5,419.0 974.5,419.0 1002.3,419.0 1027.2,419.0 1064.5,419.0 1079.5,419.0 1094.4,419.0 1096.7,419.0 1109.4,401.2 1124.2,394.6 1149.1,380.9 1160.0,373.4 1192.4,352.2 1234.7,357.7 1236.8,357.7 1236.8,357.7 1236.8,357.7 1282.0,358.5 1324.4,379.6 1349.8,395.0 1374.8,411.1 1399.7,428.6 1412.1,441.1 1412.8,441.8 1420.0,441.8 1435.7,441.8 1451.3,441.8 1467.0,441.8 1482.7,441.8 1498.4,441.8 1500.8,441.8 1500.8,419.0 1500.8,419.0 1503.0,419.0 1520.0,419.0 1549.2,419.0 1588.5,419.0 1588.5,512.0" fill="#e6d6ad" />
<polygon points="52.4,512.0 52.4,502.0 52.7,502.0 52.7,483.6 52.8,483.6 82.1,483.6 91.8,477.5 92.0,465.7 92.0,461.8 92.0,457.9 92.5,422.5 102.5,417.5 112.5,413.8 122.5,410.0 123.0,398.8 130.0,396.2 140.0,393.8 150.0,395.0 157.5,395.8 164.2,397.5 164.5,407.0 175.0,406.8 185.0,406.2 195.0,405.5 205.0,405.0 208.8,405.0 209.5,408.0 220.0,407.5 227.5,407.5 237.5,410.0 245.0,413.0 252.3,416.2 252.7,435.3 265.8,438.3 278.7,439.6 296.8,437.0 297.5,433.1 304.6,434.4 317.5,437.6 330.4,444.1 343.3,453.1 356.2,460.9 365.0,470.0 377.5,476.2 390.0,482.5 402.5,488.8 404.8,490.6 404.9,483.6 404.9,483.6 408.4,483.6 410.9,483.6 419.6,483.6 432.1,483.6 444.5,483.6 457.0,483.6 473.7,483.6 474.4,483.6 497.4,483.6 518.5,483.6 519.3,483.6 534.7,483.6 547.2,483.6 560.6,483.6 562.1,482.1 562.2,483.6 562.9,483.6 584.5,483.6 598.3,483.6 613.2,477.1 613.5,452.2 634.3,442.3 660.5,424.8 661.2,433.5 700.3,436.0 701.0,410.8 712.0,410.8 729.5,409.6 754.4,408.8 777.2,416.1 802.1,423.6 839.4,431.1 864.3,444.8 889.3,459.7 914.2,473.4 932.7,483.6 939.1,483.6 950.0,483.6 974.9,483.6 1002.3,483.6 1027.2,483.6 1064.5,483.6 1071.9,483.6 1079.5,472.2 1094.4,452.2 1107.5,434.8 1124.9,428.6 1139.3,421.1 1149.8,416.1 1164.2,404.9 1174.7,401.2 1192.2,391.2 1224.5,392.5 1279.3,395.4 1299.3,402.4 1324.2,416.1 1349.8,422.4 1369.8,431.1 1399.7,448.5 1420.0,457.4 1435.7,466.0 1451.3,475.5 1467.0,483.3 1467.5,483.6 1482.7,483.6 1498.4,483.6 1501.5,483.6 1520.0,483.6 1588.5,483.6 1588.5,512.0" fill="#f0c2a9" />
<line x1="52.4" y1="196.0" x2="1588.5" y2="196.0" stroke="#000" stroke-opacity="0.022" stroke-width="1.2"/>
<line x1="52.4" y1="301.5" x2="1588.5" y2="301.5" stroke="#000" stroke-opacity="0.022" stroke-width="1.2"/>
<line x1="52.4" y1="407.0" x2="1588.5" y2="407.0" stroke="#000" stroke-opacity="0.022" stroke-width="1.2"/>
<polyline points="52.4,106.3 53.0,106.3 97.7,106.3 139.6,106.3 141.1,103.1 184.3,103.1 185.8,99.7 227.6,99.7 229.1,96.3 272.4,96.3 273.9,93.2 315.7,93.2 360.4,93.2 361.9,99.7 405.1,99.7 406.6,106.3 448.4,106.3 493.2,106.3 536.5,106.3 581.2,106.3 626.0,106.3 666.4,106.3 667.9,103.1 711.1,103.1 712.6,99.7 754.4,99.7 755.9,96.3 799.1,96.3 800.6,93.2 842.4,93.2 887.2,93.2 888.7,99.7 931.9,99.7 933.4,106.3 975.2,106.3 1019.9,106.3 1063.2,106.3 1108.0,106.3 1152.7,106.3 1193.1,106.3 1194.6,103.1 1237.9,103.1 1239.4,99.7 1281.2,99.7 1282.7,96.3 1325.9,96.3 1327.4,93.2 1369.2,93.2 1413.9,93.2 1415.4,99.7 1458.7,99.7 1460.2,106.3 1502.0,106.3 1546.7,106.3 1588.5,106.3" fill="none" stroke="#8fdcd5" stroke-width="1.2" stroke-linejoin="round" />
<polyline points="52.4,106.3 53.0,106.3 97.7,106.3 139.6,106.3 141.1,103.1 184.3,103.1 185.8,99.7 227.6,99.7 229.1,96.3 272.4,96.3 273.9,93.2 315.7,93.2 360.4,93.2 361.9,99.7 405.1,99.7 406.6,106.3 448.4,106.3 493.2,106.3 536.5,106.3 581.2,106.3 626.0,106.3 666.4,106.3 667.9,103.1 711.1,103.1 712.6,99.7 754.4,99.7 755.9,96.3 799.1,96.3 800.6,93.2 842.4,93.2 887.2,93.2 888.7,99.7 931.9,99.7 933.4,106.3 975.2,106.3 1019.9,106.3 1063.2,106.3 1108.0,106.3 1152.7,106.3 1193.1,106.3 1194.6,103.1 1237.9,103.1 1239.4,99.7 1281.2,99.7 1282.7,96.3 1325.9,96.3 1327.4,93.2 1369.2,93.2 1413.9,93.2 1415.4,99.7 1458.7,99.7 1460.2,106.3 1502.0,106.3 1546.7,106.3 1588.5,106.3" fill="none" stroke="#8fdcd5" stroke-width="2.7" stroke-linejoin="round" stroke-dasharray="7.5 6.2"/>
<polyline points="52.4,132.0 53.8,131.3 55.3,128.4 56.7,125.5 58.2,123.0 59.6,119.5 61.1,117.1 62.5,118.3 63.9,117.1 65.4,117.6 66.8,120.6 68.3,118.3 69.7,114.8 71.2,109.9 72.6,109.5 74.0,107.8 75.5,108.5 76.9,110.2 78.4,110.3 79.8,111.3 81.3,112.3 82.7,111.5 84.2,113.6 85.6,114.8 87.0,114.1 88.5,112.3 89.9,113.5 91.4,112.8 92.8,113.4 94.3,114.3 95.7,114.2 97.1,114.8 98.6,112.0 100.0,110.3 101.5,107.4 102.9,106.5 104.4,105.4 105.8,102.5 107.2,103.4 108.7,104.9 110.1,107.6 111.6,107.8 113.0,108.7 114.5,108.4 115.9,108.6 117.3,108.1 118.8,107.6 120.2,107.8 121.7,107.9 123.1,108.7 124.6,108.4 126.0,108.8 127.4,108.7 128.9,110.1 130.3,110.5 131.8,109.6 133.2,111.6 134.7,113.5 136.1,114.8 137.5,115.0 139.0,114.2 140.4,111.9 141.9,112.2 143.3,111.2 144.8,109.5 146.2,107.5 147.7,108.5 149.1,109.6 150.5,107.4 152.0,108.2 153.4,107.4 154.9,106.0 156.3,106.4 157.8,108.4 159.2,110.0 160.6,108.7 162.1,110.0 163.5,109.0 165.0,110.4 166.4,110.1 167.9,111.6 169.3,112.8 170.7,112.3 172.2,113.8 173.6,112.8 175.1,111.8 176.5,111.6 178.0,109.4 179.4,108.4 180.8,108.0 182.3,108.0 183.7,107.3 185.2,106.8 186.6,109.2 188.1,109.0 189.5,111.3 190.9,112.8 192.4,112.5 193.8,113.0 195.3,113.5 196.7,112.8 198.2,111.8 199.6,110.7 201.0,109.8 202.5,109.8 203.9,108.4 205.4,109.0 206.8,110.9 208.3,111.0 209.7,111.9 211.2,115.0 212.6,115.8 214.0,114.5 215.5,111.6 216.9,110.6 218.4,110.1 219.8,107.6 221.3,108.5 222.7,109.1 224.1,107.7 225.6,108.7 227.0,110.0 228.5,112.9 229.9,114.6 231.4,117.6 232.8,118.8 234.2,117.7 235.7,117.5 237.1,119.6 238.6,121.0 240.0,119.2 241.5,118.7 242.9,119.0 244.3,119.3 245.8,120.1 247.2,120.9 248.7,119.6 250.1,118.4 251.6,116.1 253.0,114.2 254.4,114.6 255.9,113.5 257.3,114.7 258.8,116.3 260.2,116.3 261.7,116.3 263.1,118.4 264.6,118.2 266.0,118.3 267.4,119.4 268.9,121.2 270.3,121.0 271.8,122.0 273.2,123.0 274.7,125.2 276.1,125.3 277.5,126.8 279.0,125.8 280.4,126.0 281.9,127.4 283.3,129.3 284.8,129.4 286.2,129.2 287.6,130.2 289.1,132.9 290.5,134.2 292.0,137.2 293.4,139.2 294.9,138.9 296.3,139.4 297.7,141.5 299.2,142.4 300.6,143.7 302.1,143.9 303.5,144.2 305.0,145.6 306.4,148.6 307.8,148.9 309.3,148.2 310.7,147.9 312.2,147.6 313.6,147.2 315.1,149.5 316.5,149.0 317.9,148.7 319.4,152.5 320.8,156.1 322.3,159.5 323.7,160.6 325.2,163.7 326.6,166.2 328.1,166.2 329.5,168.2 330.9,170.2 332.4,171.5 333.8,173.7 335.3,175.6 336.7,178.1 338.2,179.8 339.6,180.4 341.0,183.0 342.5,184.2 343.9,187.0 345.4,186.9 346.8,190.1 348.3,191.9 349.7,193.8 351.1,195.1 352.6,196.2 354.0,196.2 355.5,194.9 356.9,196.6 358.4,196.2 359.8,196.6 361.2,198.3 362.7,199.1 364.1,199.3 365.6,201.2 367.0,201.5 368.5,201.1 369.9,200.8 371.3,202.6 372.8,202.7 374.2,203.9 375.7,203.5 377.1,203.0 378.6,204.2 380.0,206.0 381.4,205.4 382.9,207.3 384.3,209.0 385.8,209.8 387.2,210.4 388.7,208.6 390.1,209.6 391.6,211.1 393.0,209.8 394.4,210.1 395.9,210.7 397.3,212.0 398.8,212.8 400.2,213.7 401.7,215.2 403.1,213.9 404.5,213.6 406.0,213.9 407.4,214.4 408.9,214.9 410.3,218.2 411.8,219.9 413.2,219.2 414.6,220.5 416.1,221.1 417.5,221.0 419.0,219.5 420.4,219.0 421.9,217.8 423.3,216.3 424.7,214.6 426.2,213.6 427.6,212.0 429.1,212.0 430.5,212.1 432.0,210.8 433.4,208.8 434.8,207.6 436.3,207.1 437.7,207.0 439.2,206.8 440.6,204.9 442.1,204.6 443.5,204.1 445.0,203.0 446.4,201.4 447.8,200.2 449.3,199.7 450.7,198.0 452.2,197.4 453.6,196.2 455.1,194.7 456.5,196.9 457.9,199.4 459.4,199.7 460.8,201.1 462.3,202.0 463.7,204.1 465.2,205.5 466.6,201.8 468.0,200.2 469.5,197.9 470.9,194.9 472.4,193.7 473.8,191.7 475.3,194.0 476.7,195.2 478.1,196.9 479.6,198.0 481.0,198.3 482.5,198.8 483.9,198.8 485.4,197.7 486.8,198.7 488.2,196.0 489.7,192.7 491.1,191.5 492.6,187.5 494.0,186.4 495.5,185.7 496.9,187.4 498.3,186.0 499.8,184.6 501.2,185.8 502.7,184.0 504.1,184.8 505.6,184.4 507.0,184.4 508.5,184.4 509.9,183.0 511.3,182.7 512.8,180.0 514.2,180.5 515.7,179.7 517.1,179.7 518.6,177.6 520.0,178.1 521.4,178.0 522.9,174.9 524.3,173.3 525.8,172.7 527.2,172.6 528.7,170.0 530.1,167.8 531.5,166.1 533.0,165.6 534.4,165.1 535.9,163.7 537.3,162.8 538.8,162.2 540.2,161.5 541.6,161.1 543.1,159.6 544.5,159.6 546.0,160.7 547.4,159.3 548.9,159.2 550.3,157.1 551.7,157.2 553.2,157.1 554.6,156.5 556.1,155.3 557.5,154.3 559.0,153.9 560.4,154.1 561.8,151.6 563.3,148.8 564.7,147.6 566.2,146.3 567.6,143.4 569.1,141.7 570.5,141.0 572.0,138.5 573.4,136.9 574.8,135.2 576.3,135.1 577.7,133.8 579.2,132.5 580.6,132.6 582.1,133.1 583.5,129.6 584.9,127.3 586.4,123.8 587.8,122.4 589.3,121.0 590.7,118.9 592.2,117.0 593.6,114.1 595.0,112.8 596.5,110.8 597.9,108.6 599.4,108.5 600.8,108.2 602.3,109.2 603.7,108.6 605.1,111.3 606.6,111.5 608.0,112.3 609.5,112.7 610.9,114.0 612.4,114.7 613.8,114.4 615.2,114.1 616.7,114.8 618.1,115.4 619.6,113.9 621.0,113.8 622.5,114.3 623.9,112.8 625.4,110.8 626.8,108.5 628.2,107.9 629.7,106.6 631.1,106.1 632.6,104.8 634.0,104.6 635.5,105.0 636.9,106.0 638.3,106.3 639.8,107.9 641.2,109.3 642.7,110.3 644.1,109.1 645.6,110.1 647.0,108.9 648.4,108.4 649.9,109.0 651.3,107.3 652.8,106.3 654.2,107.9 655.7,107.5 657.1,108.0 658.5,109.3 660.0,110.7 661.4,109.7 662.9,110.5 664.3,111.6 665.8,111.9 667.2,110.5 668.6,110.6 670.1,111.4 671.5,109.8 673.0,109.1 674.4,107.1 675.9,106.5 677.3,107.6 678.7,106.5 680.2,108.2 681.6,109.2 683.1,107.6 684.5,109.5 686.0,109.1 687.4,110.3 688.9,111.2 690.3,110.4 691.7,111.0 693.2,111.4 694.6,112.2 696.1,111.0 697.5,112.0 699.0,113.2 700.4,112.9 701.8,111.8 703.3,109.6 704.7,109.4 706.2,108.5 707.6,108.9 709.1,108.8 710.5,108.6 711.9,108.1 713.4,109.5 714.8,110.6 716.3,110.2 717.7,112.4 719.2,113.2 720.6,111.8 722.0,112.7 723.5,110.4 724.9,109.5 726.4,109.8 727.8,109.3 729.3,108.5 730.7,108.9 732.1,109.6 733.6,110.0 735.0,110.3 736.5,110.6 737.9,113.3 739.4,115.3 740.8,115.2 742.2,114.8 743.7,113.0 745.1,111.4 746.6,110.4 748.0,111.0 749.5,108.4 750.9,109.5 752.4,110.7 753.8,113.7 755.2,114.8 756.7,116.1 758.1,117.3 759.6,118.2 761.0,119.6 762.5,119.3 763.9,120.9 765.3,119.7 766.8,119.5 768.2,119.0 769.7,118.9 771.1,120.9 772.6,121.9 774.0,119.3 775.4,117.3 776.9,116.1 778.3,115.9 779.8,115.3 781.2,115.9 782.7,116.3 784.1,115.5 785.5,116.2 787.0,116.3 788.4,117.6 789.9,118.8 791.3,118.7 792.8,119.1 794.2,121.2 795.6,120.7 797.1,123.2 798.5,125.4 800.0,127.3 801.4,126.4 802.9,126.5 804.3,126.8 805.8,127.3 807.2,128.8 808.6,129.4 810.1,129.2 811.5,131.3 813.0,131.8 814.4,132.9 815.9,134.6 817.3,134.1 818.7,136.8 820.2,138.5 821.6,138.9 823.1,139.5 824.5,140.0 826.0,139.8 827.4,141.0 828.8,141.6 830.3,144.1 831.7,146.7 833.2,147.6 834.6,147.8 836.1,149.2 837.5,149.7 838.9,147.7 840.4,148.8 841.8,149.5 843.3,148.5 844.7,149.2 846.2,150.7 847.6,152.2 849.0,155.3 850.5,159.2 851.9,160.5 853.4,163.9 854.8,166.1 856.3,166.7 857.7,170.1 859.1,172.2 860.6,175.3 862.0,177.4 863.5,179.6 864.9,180.5 866.4,182.8 867.8,185.0 869.3,186.6 870.7,186.9 872.1,188.7 873.6,189.2 875.0,188.8 876.5,188.9 877.9,189.4 879.4,190.3 880.8,191.0 882.2,192.7 883.7,194.5 885.1,195.4 886.6,196.1 888.0,197.6 889.5,197.8 890.9,198.9 892.3,200.7 893.8,200.5 895.2,199.8 896.7,201.6 898.1,202.2 899.6,201.6 901.0,201.5 902.4,202.1 903.9,202.8 905.3,202.2 906.8,201.4 908.2,202.0 909.7,204.5 911.1,204.4 912.5,205.6 914.0,205.8 915.4,206.2 916.9,206.2 918.3,207.0 919.8,206.8 921.2,206.4 922.6,206.6 924.1,207.8 925.5,210.0 927.0,210.3 928.4,210.7 929.9,212.4 931.3,213.5 932.8,215.4 934.2,214.7 935.6,215.8 937.1,216.7 938.5,216.4 940.0,219.3 941.4,219.3 942.9,219.4 944.3,221.1 945.7,220.2 947.2,219.8 948.6,218.2 950.1,215.9 951.5,214.3 953.0,215.0 954.4,213.6 955.8,213.9 957.3,212.7 958.7,213.1 960.2,211.0 961.6,209.4 963.1,208.1 964.5,208.7 965.9,207.8 967.4,205.8 968.8,203.4 970.3,203.5 971.7,204.6 973.2,204.0 974.6,201.7 976.0,200.3 977.5,199.6 978.9,199.3 980.4,198.8 981.8,199.2 983.3,201.4 984.7,203.6 986.2,203.0 987.6,204.8 989.0,204.4 990.5,204.5 991.9,203.0 993.4,201.3 994.8,196.7 996.3,194.0 997.7,192.8 999.1,194.3 1000.6,192.8 1002.0,192.6 1003.5,194.3 1004.9,193.1 1006.4,193.9 1007.8,194.5 1009.2,196.1 1010.7,198.1 1012.1,197.3 1013.6,198.3 1015.0,198.7 1016.5,196.8 1017.9,193.7 1019.3,192.0 1020.8,189.2 1022.2,188.0 1023.7,186.4 1025.1,186.9 1026.6,185.9 1028.0,184.4 1029.4,183.0 1030.9,183.5 1032.3,183.1 1033.8,182.9 1035.2,181.5 1036.7,180.7 1038.1,178.9 1039.5,179.3 1041.0,177.3 1042.4,177.3 1043.9,178.0 1045.3,177.9 1046.8,175.9 1048.2,174.7 1049.7,175.1 1051.1,174.1 1052.5,173.8 1054.0,173.0 1055.4,170.7 1056.9,170.1 1058.3,168.6 1059.8,165.9 1061.2,163.9 1062.6,161.3 1064.1,161.2 1065.5,162.5 1067.0,160.5 1068.4,160.6 1069.9,159.0 1071.3,157.5 1072.7,157.9 1074.2,156.5 1075.6,154.8 1077.1,153.7 1078.5,154.2 1080.0,153.9 1081.4,152.5 1082.8,152.3 1084.3,154.5 1085.7,153.4 1087.2,153.9 1088.6,151.5 1090.1,149.6 1091.5,146.7 1092.9,144.9 1094.4,143.2 1095.8,140.7 1097.3,138.8 1098.7,136.9 1100.2,137.6 1101.6,135.7 1103.0,134.1 1104.5,135.8 1105.9,134.0 1107.4,134.8 1108.8,132.5 1110.3,131.5 1111.7,126.9 1113.2,124.4 1114.6,120.7 1116.0,119.5 1117.5,119.6 1118.9,119.8 1120.4,117.7 1121.8,115.6 1123.3,113.0 1124.7,109.6 1126.1,110.4 1127.6,110.1 1129.0,110.5 1130.5,109.1 1131.9,110.3 1133.4,111.1 1134.8,112.8 1136.2,112.2 1137.7,113.0 1139.1,113.1 1140.6,111.9 1142.0,112.5 1143.5,113.3 1144.9,112.7 1146.3,112.7 1147.8,112.4 1149.2,110.8 1150.7,110.1 1152.1,111.4 1153.6,109.3 1155.0,107.6 1156.4,105.0 1157.9,103.3 1159.3,101.5 1160.8,103.7 1162.2,105.4 1163.7,107.4 1165.1,109.3 1166.6,109.8 1168.0,111.1 1169.4,110.0 1170.9,108.9 1172.3,109.8 1173.8,110.0 1175.2,110.2 1176.7,108.9 1178.1,109.0 1179.5,107.9 1181.0,109.0 1182.4,109.3 1183.9,108.4 1185.3,110.3 1186.8,109.5 1188.2,109.2 1189.6,111.3 1191.1,110.3 1192.5,110.0 1194.0,109.8 1195.4,107.6 1196.9,108.1 1198.3,106.7 1199.7,106.1 1201.2,105.9 1202.6,107.1 1204.1,107.9 1205.5,107.1 1207.0,106.1 1208.4,106.3 1209.8,106.7 1211.3,106.4 1212.7,106.6 1214.2,108.8 1215.6,110.0 1217.1,111.8 1218.5,112.9 1219.9,113.3 1221.4,112.2 1222.8,111.1 1224.3,111.1 1225.7,111.7 1227.2,112.4 1228.6,112.0 1230.1,110.6 1231.5,110.9 1232.9,108.9 1234.4,107.9 1235.8,109.2 1237.3,110.4 1238.7,109.8 1240.2,109.7 1241.6,111.6 1243.0,110.6 1244.5,110.7 1245.9,112.3 1247.4,113.6 1248.8,111.7 1250.3,109.8 1251.7,108.6 1253.1,109.2 1254.6,108.1 1256.0,108.5 1257.5,109.5 1258.9,111.3 1260.4,109.9 1261.8,110.1 1263.2,110.1 1264.7,111.9 1266.1,113.0 1267.6,113.2 1269.0,112.9 1270.5,110.8 1271.9,109.8 1273.3,108.4 1274.8,108.7 1276.2,109.8 1277.7,111.0 1279.1,111.7 1280.6,114.1 1282.0,116.9 1283.4,118.4 1284.9,120.0 1286.3,120.7 1287.8,119.7 1289.2,119.0 1290.7,120.6 1292.1,121.5 1293.6,121.3 1295.0,122.2 1296.4,121.9 1297.9,121.1 1299.3,120.3 1300.8,118.5 1302.2,118.1 1303.7,117.9 1305.1,117.0 1306.5,114.9 1308.0,115.7 1309.4,117.2 1310.9,118.0 1312.3,118.1 1313.8,117.8 1315.2,118.3 1316.6,117.8 1318.1,118.0 1319.5,120.1 1321.0,122.7 1322.4,123.2 1323.9,123.5 1325.3,123.8 1326.7,124.3 1328.2,125.9 1329.6,126.0 1331.1,127.8 1332.5,126.6 1334.0,126.7 1335.4,127.7 1336.8,128.6 1338.3,130.8 1339.7,132.3 1341.2,134.0 1342.6,134.3 1344.1,133.5 1345.5,135.2 1347.0,136.6 1348.4,137.7 1349.8,138.2 1351.3,140.1 1352.7,142.2 1354.2,141.3 1355.6,143.0 1357.1,143.5 1358.5,145.0 1359.9,147.8 1361.4,150.3 1362.8,151.0 1364.3,149.0 1365.7,150.0 1367.2,148.1 1368.6,147.6 1370.0,148.5 1371.5,149.8 1372.9,151.4 1374.4,155.2 1375.8,158.5 1377.3,159.7 1378.7,161.7 1380.1,163.5 1381.6,164.5 1383.0,166.2 1384.5,170.2 1385.9,170.7 1387.4,172.5 1388.8,174.3 1390.2,175.9 1391.7,178.6 1393.1,181.5 1394.6,184.2 1396.0,185.8 1397.5,188.0 1398.9,187.0 1400.3,187.9 1401.8,190.9 1403.2,190.4 1404.7,191.3 1406.1,192.5 1407.6,192.6 1409.0,193.8 1410.5,193.2 1411.9,193.7 1413.3,196.3 1414.8,195.6 1416.2,197.8 1417.7,197.2 1419.1,199.5 1420.6,200.2 1422.0,200.7 1423.4,199.8 1424.9,199.3 1426.3,201.3 1427.8,200.9 1429.2,200.9 1430.7,203.0 1432.1,204.5 1433.5,203.0 1435.0,205.2 1436.4,205.3 1437.9,205.2 1439.3,204.6 1440.8,205.3 1442.2,207.8 1443.6,207.3 1445.1,206.8 1446.5,206.9 1448.0,207.1 1449.4,208.2 1450.9,211.0 1452.3,210.6 1453.7,211.1 1455.2,214.1 1456.6,216.4 1458.1,218.1 1459.5,217.2 1461.0,217.5 1462.4,220.0 1463.8,219.9 1465.3,220.8 1466.7,220.3 1468.2,219.4 1469.6,220.2 1471.1,222.0 1472.5,223.4 1474.0,221.5 1475.4,219.4 1476.8,217.7 1478.3,215.7 1479.7,214.2 1481.2,213.9 1482.6,211.3 1484.1,210.6 1485.5,210.7 1486.9,210.0 1488.4,207.1 1489.8,207.3 1491.3,206.5 1492.7,203.7 1494.2,202.5 1495.6,201.4 1497.0,200.2 1498.5,202.0 1499.9,201.1 1501.4,201.8 1502.8,199.7 1504.3,198.0 1505.7,199.0 1507.1,198.6 1508.6,198.4 1510.0,196.9 1511.5,198.0 1512.9,200.0 1514.4,199.9 1515.8,201.9 1517.2,203.4 1518.7,201.0 1520.1,199.7 1521.6,197.2 1523.0,195.3 1524.5,193.0 1525.9,192.2 1527.4,192.7 1528.8,194.0 1530.2,196.0 1531.7,197.3 1533.1,198.0 1534.6,198.6 1536.0,197.3 1537.5,198.7 1538.9,197.4 1540.3,196.4 1541.8,197.1 1543.2,196.9 1544.7,193.7 1546.1,191.7 1547.6,188.5 1549.0,189.6 1550.4,188.4 1551.9,187.6 1553.3,187.0 1554.8,187.5 1556.2,187.9 1557.7,186.4 1559.1,184.8 1560.5,184.0 1562.0,181.5 1563.4,180.8 1564.9,181.3 1566.3,180.9 1567.8,178.2 1569.2,179.1 1570.6,177.9 1572.1,178.7 1573.5,177.1 1575.0,175.6 1576.4,175.5 1577.9,175.8 1579.3,173.4 1580.7,172.5 1582.2,170.7 1583.6,168.7 1585.1,167.2 1586.5,166.6 1588.0,165.7 1588.5,165.8" fill="none" stroke="#0db3a6" stroke-width="1.25" stroke-linejoin="round" stroke-dasharray="4 1"/>
<polyline points="52.4,257.0 53.8,255.7 55.3,256.1 56.7,254.3 58.2,254.4 59.6,253.6 61.1,251.9 62.5,252.0 63.9,250.0 65.4,249.7 66.8,248.0 68.3,246.8 69.7,247.4 71.2,248.7 72.6,247.3 74.0,246.6 75.5,247.3 76.9,248.6 78.4,246.9 79.8,244.6 81.3,244.4 82.7,240.7 84.2,240.4 85.6,238.0 87.0,235.8 88.5,233.9 89.9,232.9 91.4,233.2 92.8,231.0 94.3,230.5 95.7,229.9 97.1,228.2 98.6,227.3 100.0,224.8 101.5,223.3 102.9,224.1 104.4,226.3 105.8,227.1 107.2,227.5 108.7,228.9 110.1,228.9 111.6,227.6 113.0,227.9 114.5,227.5 115.9,225.5 117.3,225.0 118.8,225.0 120.2,226.3 121.7,226.7 123.1,225.7 124.6,227.3 126.0,225.7 127.4,225.9 128.9,227.2 130.3,226.2 131.8,226.9 133.2,226.0 134.7,227.6 136.1,228.9 137.5,227.4 139.0,226.4 140.4,223.4 141.9,222.2 143.3,221.6 144.8,220.9 146.2,220.0 147.7,220.3 149.1,220.6 150.5,219.0 152.0,219.1 153.4,217.7 154.9,219.0 156.3,219.7 157.8,221.3 159.2,221.4 160.6,219.4 162.1,218.4 163.5,218.4 165.0,216.9 166.4,217.7 167.9,217.5 169.3,217.4 170.7,217.2 172.2,219.1 173.6,218.4 175.1,218.3 176.5,218.8 178.0,220.6 179.4,219.6 180.8,220.4 182.3,221.4 183.7,223.1 185.2,224.2 186.6,226.0 188.1,226.0 189.5,227.0 190.9,228.0 192.4,230.8 193.8,232.8 195.3,231.8 196.7,231.8 198.2,232.4 199.6,233.2 201.0,234.3 202.5,235.2 203.9,234.8 205.4,233.9 206.8,234.8 208.3,235.5 209.7,236.8 211.2,239.0 212.6,239.7 214.0,239.8 215.5,240.1 216.9,239.9 218.4,237.8 219.8,239.0 221.3,239.1 222.7,239.3 224.1,239.7 225.6,238.7 227.0,238.3 228.5,237.4 229.9,238.5 231.4,238.0 232.8,238.1 234.2,238.8 235.7,239.5 237.1,240.7 238.6,240.8 240.0,241.0 241.5,241.9 242.9,242.6 244.3,244.1 245.8,244.1 247.2,246.8 248.7,247.7 250.1,247.0 251.6,247.2 253.0,247.7 254.4,248.0 255.9,247.6 257.3,249.7 258.8,251.3 260.2,250.8 261.7,250.9 263.1,250.0 264.6,249.7 266.0,250.6 267.4,251.0 268.9,253.1 270.3,252.5 271.8,252.0 273.2,254.7 274.7,255.1 276.1,254.3 277.5,255.0 279.0,254.0 280.4,255.1 281.9,257.1 283.3,258.2 284.8,258.5 286.2,257.6 287.6,257.6 289.1,257.3 290.5,259.2 292.0,259.9 293.4,261.4 294.9,261.2 296.3,261.1 297.7,263.1 299.2,265.1 300.6,266.1 302.1,266.8 303.5,267.6 305.0,268.1 306.4,265.5 307.8,264.6 309.3,263.1 310.7,261.7 312.2,261.6 313.6,262.5 315.1,263.3 316.5,266.1 317.9,269.1 319.4,269.9 320.8,272.1 322.3,273.8 323.7,275.1 325.2,274.5 326.6,274.1 328.1,274.4 329.5,274.9 330.9,275.6 332.4,277.7 333.8,280.1 335.3,281.8 336.7,282.5 338.2,284.0 339.6,286.0 341.0,285.6 342.5,287.7 343.9,289.8 345.4,291.0 346.8,292.0 348.3,292.2 349.7,291.8 351.1,293.8 352.6,294.0 354.0,296.0 355.5,298.0 356.9,297.8 358.4,298.2 359.8,300.4 361.2,301.4 362.7,300.8 364.1,300.7 365.6,301.5 367.0,305.5 368.5,308.2 369.9,308.6 371.3,311.7 372.8,314.0 374.2,312.0 375.7,309.2 377.1,307.5 378.6,304.5 380.0,301.8 381.4,304.4 382.9,305.1 384.3,305.3 385.8,307.3 387.2,307.9 388.7,310.1 390.1,311.8 391.6,310.7 393.0,310.5 394.4,310.7 395.9,311.0 397.3,312.4 398.8,312.4 400.2,313.3 401.7,313.7 403.1,316.8 404.5,317.3 406.0,318.4 407.4,319.2 408.9,320.5 410.3,319.7 411.8,320.8 413.2,320.2 414.6,319.9 416.1,320.3 417.5,320.0 419.0,321.7 420.4,322.5 421.9,323.0 423.3,326.1 424.7,326.6 426.2,328.2 427.6,329.9 429.1,330.7 430.5,330.7 432.0,331.6 433.4,332.6 434.8,333.7 436.3,332.3 437.7,333.0 439.2,333.0 440.6,334.3 442.1,337.2 443.5,338.8 445.0,339.3 446.4,339.9 447.8,340.6 449.3,339.7 450.7,340.5 452.2,340.9 453.6,341.5 455.1,342.8 456.5,341.9 457.9,341.0 459.4,340.0 460.8,340.3 462.3,338.2 463.7,336.7 465.2,335.1 466.6,331.3 468.0,330.1 469.5,330.6 470.9,330.3 472.4,327.8 473.8,326.0 475.3,325.8 476.7,324.7 478.1,325.2 479.6,325.3 481.0,327.4 482.5,329.1 483.9,330.7 485.4,329.6 486.8,330.7 488.2,330.3 489.7,328.3 491.1,329.8 492.6,331.4 494.0,330.2 495.5,332.0 496.9,331.5 498.3,330.3 499.8,330.7 501.2,330.0 502.7,327.2 504.1,326.1 505.6,325.4 507.0,324.1 508.5,322.5 509.9,321.6 511.3,321.1 512.8,317.9 514.2,317.3 515.7,316.2 517.1,313.9 518.6,313.0 520.0,312.9 521.4,313.5 522.9,312.9 524.3,315.5 525.8,314.9 527.2,310.9 528.7,304.2 530.1,301.8 531.5,300.1 533.0,301.2 534.4,300.0 535.9,298.6 537.3,298.0 538.8,298.6 540.2,298.2 541.6,297.1 543.1,297.2 544.5,300.1 546.0,301.2 547.4,302.8 548.9,302.3 550.3,302.5 551.7,299.4 553.2,289.0 554.6,283.5 556.1,281.0 557.5,279.9 559.0,279.7 560.4,277.1 561.8,277.6 563.3,275.1 564.7,275.8 566.2,274.4 567.6,272.9 569.1,272.2 570.5,272.6 572.0,270.4 573.4,267.5 574.8,266.0 576.3,263.2 577.7,260.4 579.2,258.0 580.6,255.7 582.1,254.5 583.5,253.5 584.9,252.2 586.4,253.0 587.8,251.7 589.3,251.2 590.7,249.7 592.2,249.1 593.6,247.4 595.0,246.9 596.5,245.9 597.9,247.3 599.4,247.4 600.8,246.2 602.3,246.3 603.7,247.5 605.1,245.5 606.6,245.8 608.0,244.4 609.5,243.3 610.9,243.3 612.4,241.6 613.8,239.9 615.2,238.7 616.7,238.2 618.1,235.2 619.6,234.3 621.0,233.1 622.5,231.8 623.9,229.9 625.4,228.2 626.8,225.9 628.2,224.4 629.7,222.9 631.1,224.9 632.6,224.9 634.0,224.9 635.5,224.9 636.9,227.4 638.3,229.2 639.8,229.7 641.2,227.8 642.7,225.9 644.1,224.6 645.6,224.3 647.0,223.7 648.4,224.3 649.9,224.1 651.3,226.2 652.8,227.4 654.2,226.8 655.7,225.8 657.1,227.6 658.5,226.7 660.0,226.6 661.4,225.6 662.9,225.9 664.3,225.2 665.8,224.4 667.2,222.5 668.6,221.8 670.1,219.4 671.5,219.0 673.0,218.0 674.4,218.1 675.9,216.9 677.3,215.9 678.7,215.9 680.2,215.6 681.6,217.0 683.1,217.8 684.5,219.0 686.0,219.5 687.4,220.1 688.9,221.0 690.3,220.1 691.7,219.1 693.2,220.5 694.6,218.7 696.1,219.4 697.5,219.5 699.0,218.0 700.4,219.7 701.8,220.9 703.3,220.9 704.7,221.3 706.2,222.6 707.6,221.8 709.1,223.0 710.5,224.1 711.9,226.2 713.4,227.8 714.8,229.2 716.3,229.4 717.7,230.7 719.2,231.1 720.6,231.7 722.0,231.0 723.5,230.3 724.9,230.6 726.4,231.4 727.8,231.2 729.3,233.5 730.7,234.1 732.1,234.7 733.6,235.3 735.0,235.9 736.5,236.0 737.9,234.9 739.4,236.8 740.8,238.0 742.2,238.2 743.7,238.6 745.1,239.4 746.6,237.7 748.0,238.6 749.5,237.7 750.9,236.5 752.4,236.4 753.8,237.7 755.2,236.7 756.7,237.8 758.1,239.4 759.6,239.7 761.0,239.9 762.5,240.8 763.9,242.3 765.3,243.7 766.8,244.1 768.2,244.7 769.7,243.5 771.1,243.3 772.6,243.8 774.0,245.8 775.4,245.7 776.9,246.7 778.3,245.8 779.8,245.7 781.2,246.4 782.7,248.3 784.1,249.6 785.5,250.5 787.0,250.0 788.4,250.6 789.9,251.1 791.3,251.6 792.8,251.0 794.2,253.3 795.6,252.7 797.1,255.0 798.5,256.4 800.0,254.6 801.4,255.1 802.9,256.7 804.3,258.3 805.8,257.8 807.2,257.2 808.6,256.1 810.1,257.4 811.5,255.7 813.0,255.7 814.4,254.1 815.9,255.1 817.3,257.6 818.7,257.0 820.2,259.1 821.6,259.8 823.1,261.9 824.5,263.4 826.0,263.4 827.4,266.1 828.8,266.9 830.3,266.2 831.7,264.3 833.2,264.2 834.6,263.6 836.1,262.4 837.5,260.9 838.9,262.6 840.4,264.1 841.8,267.1 843.3,266.9 844.7,269.7 846.2,271.8 847.6,271.2 849.0,273.7 850.5,274.8 851.9,276.5 853.4,275.8 854.8,276.0 856.3,276.5 857.7,278.9 859.1,279.3 860.6,279.2 862.0,279.6 863.5,280.4 864.9,281.1 866.4,282.3 867.8,286.0 869.3,287.1 870.7,290.2 872.1,290.1 873.6,290.6 875.0,292.1 876.5,292.4 877.9,293.7 879.4,296.6 880.8,298.2 882.2,299.2 883.7,299.5 885.1,300.8 886.6,302.0 888.0,301.7 889.5,302.5 890.9,301.8 892.3,304.6 893.8,306.0 895.2,308.6 896.7,310.4 898.1,311.2 899.6,311.7 901.0,313.1 902.4,310.1 903.9,308.8 905.3,307.0 906.8,305.1 908.2,304.6 909.7,304.4 911.1,303.8 912.5,305.9 914.0,306.7 915.4,308.6 916.9,309.9 918.3,310.6 919.8,311.8 921.2,312.3 922.6,314.8 924.1,315.1 925.5,314.6 927.0,316.7 928.4,318.2 929.9,317.7 931.3,316.8 932.8,316.8 934.2,316.7 935.6,317.6 937.1,317.1 938.5,317.3 940.0,317.5 941.4,318.6 942.9,320.1 944.3,321.9 945.7,322.5 947.2,323.7 948.6,325.7 950.1,327.2 951.5,328.3 953.0,328.3 954.4,329.4 955.8,332.5 957.3,332.1 958.7,332.7 960.2,333.6 961.6,334.8 963.1,333.7 964.5,333.3 965.9,333.9 967.4,335.4 968.8,337.0 970.3,339.7 971.7,340.2 973.2,340.6 974.6,338.2 976.0,337.4 977.5,339.5 978.9,341.5 980.4,341.8 981.8,342.6 983.3,341.1 984.7,340.4 986.2,341.1 987.6,340.7 989.0,340.2 990.5,338.9 991.9,334.9 993.4,331.3 994.8,328.7 996.3,328.7 997.7,328.9 999.1,329.4 1000.6,328.7 1002.0,327.8 1003.5,327.3 1004.9,327.1 1006.4,327.7 1007.8,326.8 1009.2,328.8 1010.7,328.3 1012.1,330.3 1013.6,330.8 1015.0,329.7 1016.5,328.3 1017.9,327.8 1019.3,328.6 1020.8,329.3 1022.2,328.6 1023.7,328.3 1025.1,329.9 1026.6,330.1 1028.0,328.8 1029.4,327.2 1030.9,327.0 1032.3,324.6 1033.8,323.8 1035.2,323.3 1036.7,324.1 1038.1,323.2 1039.5,321.9 1041.0,318.7 1042.4,315.2 1043.9,312.7 1045.3,314.6 1046.8,315.0 1048.2,314.0 1049.7,312.7 1051.1,312.4 1052.5,311.9 1054.0,307.6 1055.4,303.0 1056.9,302.9 1058.3,303.3 1059.8,300.9 1061.2,299.2 1062.6,299.5 1064.1,300.0 1065.5,301.0 1067.0,299.9 1068.4,301.1 1069.9,301.6 1071.3,301.4 1072.7,301.2 1074.2,303.7 1075.6,303.6 1077.1,305.4 1078.5,302.3 1080.0,297.2 1081.4,287.7 1082.8,283.0 1084.3,280.6 1085.7,277.7 1087.2,275.8 1088.6,274.5 1090.1,274.1 1091.5,274.3 1092.9,274.9 1094.4,272.5 1095.8,271.3 1097.3,269.4 1098.7,270.0 1100.2,267.3 1101.6,265.0 1103.0,263.2 1104.5,262.6 1105.9,263.0 1107.4,262.3 1108.8,260.7 1110.3,259.9 1111.7,258.5 1113.2,255.5 1114.6,253.2 1116.0,253.8 1117.5,253.2 1118.9,250.3 1120.4,250.2 1121.8,248.9 1123.3,248.0 1124.7,247.3 1126.1,246.2 1127.6,244.9 1129.0,244.9 1130.5,244.9 1131.9,246.5 1133.4,244.7 1134.8,246.0 1136.2,242.6 1137.7,239.9 1139.1,238.7 1140.6,237.0 1142.0,233.8 1143.5,230.9 1144.9,230.4 1146.3,229.4 1147.8,230.2 1149.2,228.0 1150.7,226.9 1152.1,227.6 1153.6,224.9 1155.0,224.2 1156.4,225.9 1157.9,226.8 1159.3,225.3 1160.8,224.6 1162.2,224.5 1163.7,227.2 1165.1,226.7 1166.6,227.4 1168.0,228.0 1169.4,226.4 1170.9,225.2 1172.3,226.4 1173.8,225.8 1175.2,224.3 1176.7,225.4 1178.1,224.9 1179.5,224.6 1181.0,223.8 1182.4,225.7 1183.9,227.4 1185.3,227.6 1186.8,228.7 1188.2,226.1 1189.6,224.3 1191.1,223.6 1192.5,224.2 1194.0,224.0 1195.4,221.7 1196.9,219.5 1198.3,218.4 1199.7,217.5 1201.2,218.7 1202.6,217.3 1204.1,218.4 1205.5,218.8 1207.0,219.3 1208.4,219.5 1209.8,219.1 1211.3,218.0 1212.7,217.5 1214.2,217.3 1215.6,218.6 1217.1,217.3 1218.5,217.1 1219.9,218.7 1221.4,218.2 1222.8,217.4 1224.3,217.0 1225.7,218.7 1227.2,219.3 1228.6,221.9 1230.1,223.3 1231.5,224.7 1232.9,223.6 1234.4,222.7 1235.8,222.5 1237.3,223.9 1238.7,225.8 1240.2,226.5 1241.6,226.6 1243.0,227.6 1244.5,229.2 1245.9,230.6 1247.4,231.9 1248.8,233.4 1250.3,234.0 1251.7,232.8 1253.1,234.6 1254.6,234.2 1256.0,235.0 1257.5,235.2 1258.9,236.6 1260.4,236.0 1261.8,236.1 1263.2,236.2 1264.7,235.8 1266.1,237.8 1267.6,238.0 1269.0,237.4 1270.5,237.3 1271.9,239.1 1273.3,238.6 1274.8,237.6 1276.2,239.1 1277.7,239.8 1279.1,241.4 1280.6,239.9 1282.0,240.4 1283.4,241.9 1284.9,243.1 1286.3,244.2 1287.8,242.3 1289.2,242.3 1290.7,241.9 1292.1,242.1 1293.6,244.8 1295.0,245.2 1296.4,246.7 1297.9,246.1 1299.3,247.4 1300.8,247.1 1302.2,246.5 1303.7,248.0 1305.1,249.5 1306.5,248.0 1308.0,248.8 1309.4,249.5 1310.9,248.9 1312.3,249.2 1313.8,249.0 1315.2,249.3 1316.6,249.8 1318.1,251.4 1319.5,252.6 1321.0,252.2 1322.4,251.6 1323.9,252.5 1325.3,254.3 1326.7,254.1 1328.2,254.7 1329.6,254.9 1331.1,257.1 1332.5,257.9 1334.0,257.1 1335.4,256.6 1336.8,256.2 1338.3,256.0 1339.7,255.8 1341.2,255.0 1342.6,255.4 1344.1,257.5 1345.5,258.2 1347.0,258.6 1348.4,259.3 1349.8,261.9 1351.3,262.2 1352.7,263.6 1354.2,264.4 1355.6,265.5 1357.1,268.0 1358.5,268.8 1359.9,266.5 1361.4,264.4 1362.8,264.3 1364.3,262.3 1365.7,261.3 1367.2,264.6 1368.6,265.5 1370.0,267.8 1371.5,268.4 1372.9,270.7 1374.4,271.3 1375.8,271.1 1377.3,271.0 1378.7,273.0 1380.1,274.8 1381.6,277.1 1383.0,276.3 1384.5,277.9 1385.9,278.5 1387.4,279.7 1388.8,279.9 1390.2,280.9 1391.7,282.7 1393.1,285.4 1394.6,285.0 1396.0,286.4 1397.5,288.7 1398.9,290.9 1400.3,290.3 1401.8,290.2 1403.2,293.0 1404.7,295.1 1406.1,295.2 1407.6,294.5 1409.0,297.1 1410.5,297.4 1411.9,299.6 1413.3,300.2 1414.8,301.4 1416.2,300.5 1417.7,302.1 1419.1,301.6 1420.6,303.0 1422.0,306.9 1423.4,310.1 1424.9,311.1 1426.3,312.7 1427.8,311.0 1429.2,309.5 1430.7,307.5 1432.1,304.8 1433.5,302.8 1435.0,302.3 1436.4,305.0 1437.9,304.6 1439.3,306.6 1440.8,308.9 1442.2,308.7 1443.6,311.6 1445.1,311.6 1446.5,312.9 1448.0,313.7 1449.4,314.6 1450.9,314.3 1452.3,314.8 1453.7,315.8 1455.2,316.1 1456.6,317.2 1458.1,317.5 1459.5,317.9 1461.0,317.1 1462.4,318.6 1463.8,319.2 1465.3,319.0 1466.7,320.6 1468.2,321.7 1469.6,321.6 1471.1,321.5 1472.5,323.0 1474.0,323.3 1475.4,324.1 1476.8,326.0 1478.3,326.6 1479.7,328.5 1481.2,329.6 1482.6,328.9 1484.1,330.5 1485.5,329.8 1486.9,331.6 1488.4,332.8 1489.8,332.9 1491.3,332.0 1492.7,333.3 1494.2,333.9 1495.6,336.3 1497.0,335.5 1498.5,337.4 1499.9,339.2 1501.4,339.7 1502.8,340.5 1504.3,339.5 1505.7,341.6 1507.1,341.7 1508.6,343.5 1510.0,344.7 1511.5,342.1 1512.9,341.8 1514.4,341.7 1515.8,338.6 1517.2,337.0 1518.7,335.8 1520.1,332.5 1521.6,331.8 1523.0,329.6 1524.5,329.9 1525.9,327.8 1527.4,327.3 1528.8,328.0 1530.2,325.9 1531.7,325.2 1533.1,326.4 1534.6,326.7 1536.0,326.4 1537.5,326.8 1538.9,327.1 1540.3,329.8 1541.8,330.5 1543.2,331.2 1544.7,329.2 1546.1,329.8 1547.6,328.0 1549.0,328.9 1550.4,330.1 1551.9,330.2 1553.3,331.8 1554.8,330.5 1556.2,329.4 1557.7,329.3 1559.1,326.4 1560.5,327.1 1562.0,325.9 1563.4,324.1 1564.9,323.8 1566.3,321.3 1567.8,320.5 1569.2,317.7 1570.6,314.5 1572.1,314.6 1573.5,314.1 1575.0,313.2 1576.4,314.4 1577.9,312.7 1579.3,312.8 1580.7,309.4 1582.2,305.8 1583.6,305.0 1585.1,303.9 1586.5,303.2 1588.0,301.4 1588.5,301.1" fill="none" stroke="#ffffff" stroke-width="1.3" stroke-linejoin="round" stroke-dasharray="4 1"/>
<polyline points="52.4,199.5 52.7,199.5 65.0,189.0 77.5,181.5 90.0,172.8 102.5,166.0 107.5,164.5 115.0,164.0 127.5,163.5 140.0,163.2 152.5,164.0 165.0,166.5 177.5,168.2 190.0,169.8 202.5,171.5 215.0,173.5 227.5,176.5 240.0,180.2 252.5,184.0 265.0,189.0 277.5,194.0 290.0,199.5 302.5,206.0 315.0,213.5 327.5,222.0 340.0,232.5 352.5,240.0 365.0,246.2 377.5,252.5 390.0,258.8 402.5,266.2 412.5,271.2 420.0,271.2 432.5,270.5 445.0,271.2 457.5,268.8 470.0,265.0 482.5,260.0 495.0,255.0 507.5,248.8 520.0,242.5 532.5,235.0 545.0,227.5 557.5,220.0 570.0,208.0 582.5,197.5 595.0,186.5 607.5,181.5 620.0,172.8 632.5,165.2 645.0,164.5 657.5,164.0 670.0,164.0 682.5,164.0 695.0,167.0 707.5,167.8 720.0,169.0 732.5,171.5 745.0,174.5 757.5,177.8 770.0,182.0 782.5,185.2 795.0,190.2 807.5,196.5 820.0,201.5 825.0,205.0 837.5,212.0 850.0,218.8 862.5,227.5 875.0,236.2 887.5,242.5 900.0,248.8 912.5,255.0 925.0,262.5 937.5,270.0 950.0,271.2 962.5,270.8 975.0,271.2 987.5,267.5 1000.0,263.8 1012.5,259.5 1025.0,253.8 1037.5,247.5 1050.0,240.0 1062.5,232.5 1075.0,225.0 1087.5,216.2 1100.0,206.0 1112.5,195.2 1125.0,185.2 1137.5,180.2 1150.0,171.5 1160.0,164.5 1175.0,164.5 1187.5,163.5 1200.0,164.5 1210.0,164.0 1225.0,167.0 1237.5,167.8 1250.0,169.5 1262.5,172.0 1275.0,174.5 1287.5,179.0 1300.0,182.8 1312.5,186.5 1325.0,191.0 1337.5,197.8 1350.0,204.0 1362.5,211.5 1375.0,218.5 1387.5,227.5 1412.5,242.5 1437.5,253.8 1450.0,261.2 1465.0,270.0 1475.0,271.8 1487.5,270.8 1500.0,271.2 1515.0,267.0 1537.5,258.8 1555.0,252.5 1575.0,241.2 1588.5,235.4" fill="none" stroke="#0fb4a7" stroke-width="1.3" stroke-linejoin="round" />
<polyline points="52.4,199.5 52.7,199.5 65.0,189.0 77.5,181.5 90.0,172.8 102.5,166.0 107.5,164.5 115.0,164.0 127.5,163.5 140.0,163.2 152.5,164.0 165.0,166.5 177.5,168.2 190.0,169.8 202.5,171.5 215.0,173.5 227.5,176.5 240.0,180.2 252.5,184.0 265.0,189.0 277.5,194.0 290.0,199.5 302.5,206.0 315.0,213.5 327.5,222.0 340.0,232.5 352.5,240.0 365.0,246.2 377.5,252.5 390.0,258.8 402.5,266.2 412.5,271.2 420.0,271.2 432.5,270.5 445.0,271.2 457.5,268.8 470.0,265.0 482.5,260.0 495.0,255.0 507.5,248.8 520.0,242.5 532.5,235.0 545.0,227.5 557.5,220.0 570.0,208.0 582.5,197.5 595.0,186.5 607.5,181.5 620.0,172.8 632.5,165.2 645.0,164.5 657.5,164.0 670.0,164.0 682.5,164.0 695.0,167.0 707.5,167.8 720.0,169.0 732.5,171.5 745.0,174.5 757.5,177.8 770.0,182.0 782.5,185.2 795.0,190.2 807.5,196.5 820.0,201.5 825.0,205.0 837.5,212.0 850.0,218.8 862.5,227.5 875.0,236.2 887.5,242.5 900.0,248.8 912.5,255.0 925.0,262.5 937.5,270.0 950.0,271.2 962.5,270.8 975.0,271.2 987.5,267.5 1000.0,263.8 1012.5,259.5 1025.0,253.8 1037.5,247.5 1050.0,240.0 1062.5,232.5 1075.0,225.0 1087.5,216.2 1100.0,206.0 1112.5,195.2 1125.0,185.2 1137.5,180.2 1150.0,171.5 1160.0,164.5 1175.0,164.5 1187.5,163.5 1200.0,164.5 1210.0,164.0 1225.0,167.0 1237.5,167.8 1250.0,169.5 1262.5,172.0 1275.0,174.5 1287.5,179.0 1300.0,182.8 1312.5,186.5 1325.0,191.0 1337.5,197.8 1350.0,204.0 1362.5,211.5 1375.0,218.5 1387.5,227.5 1412.5,242.5 1437.5,253.8 1450.0,261.2 1465.0,270.0 1475.0,271.8 1487.5,270.8 1500.0,271.2 1515.0,267.0 1537.5,258.8 1555.0,252.5 1575.0,241.2 1588.5,235.4" fill="none" stroke="#0fb4a7" stroke-width="3" stroke-linejoin="round" stroke-dasharray="6 6"/>
<line x1="137.9" y1="166.2" x2="137.9" y2="172.2" stroke="#0fb4a7" stroke-width="1.8"/>
<line x1="138.2" y1="229" x2="138.2" y2="237" stroke="#ffffff" stroke-width="1.1" stroke-opacity="0.8"/>
<polyline points="52.4,468.8 52.7,468.8" fill="none" stroke="#fe9666" stroke-width="1.1" stroke-linejoin="round" stroke-opacity="0.9"/>
<polyline points="52.7,418.4 52.8,418.4 91.8,418.4 92.1,418.4" fill="none" stroke="#fe9666" stroke-width="1.1" stroke-linejoin="round" stroke-opacity="0.9"/>
<polyline points="92.5,385.0 102.5,381.2 112.5,377.5 122.5,373.8" fill="none" stroke="#fe9666" stroke-width="1.1" stroke-linejoin="round" stroke-opacity="0.9"/>
<polyline points="123.0,363.8 130.0,361.2 140.0,358.0 150.0,359.2 157.5,360.8 164.2,362.0" fill="none" stroke="#fe9666" stroke-width="1.1" stroke-linejoin="round" stroke-opacity="0.9"/>
<polyline points="164.5,373.8 175.0,374.2 183.8,374.2 183.8,374.2 183.9,374.2 185.0,374.2 195.0,373.0 205.0,372.0 208.8,371.8 209.5,374.5 220.0,373.8 227.5,373.0 237.5,376.2 245.0,380.0 252.3,384.5" fill="none" stroke="#fe9666" stroke-width="1.1" stroke-linejoin="round" stroke-opacity="0.9"/>
<polyline points="252.7,406.0 265.8,409.9 278.7,413.1 296.8,415.7" fill="none" stroke="#fe9666" stroke-width="1.1" stroke-linejoin="round" stroke-opacity="0.9"/>
<polyline points="297.5,407.9 311.0,415.7 324.0,426.0 336.9,436.3 349.8,441.5 350.2,441.8 360.0,441.8 370.0,441.8 382.3,441.8 394.7,441.8 404.8,441.8" fill="none" stroke="#fe9666" stroke-width="1.1" stroke-linejoin="round" stroke-opacity="0.9"/>
<polyline points="404.9,403.2 404.9,403.2 408.4,403.2 410.9,403.2 419.6,403.2 432.1,403.2 444.5,403.2 454.5,403.2 464.5,403.2 474.0,403.2 474.5,403.2 492.2,403.2" fill="none" stroke="#fe9666" stroke-width="1.1" stroke-linejoin="round" stroke-opacity="0.9"/>
<polyline points="492.3,418.6 492.4,418.6 497.4,418.6 518.5,418.6 519.3,418.6 534.7,418.6 547.2,418.6 562.1,418.6 562.9,418.6 584.5,418.6 613.2,418.6 613.5,418.6 613.5,416.1 634.3,404.9 660.5,388.4" fill="none" stroke="#fe9666" stroke-width="1.1" stroke-linejoin="round" stroke-opacity="0.9"/>
<polyline points="661.0,399.1 684.2,401.2 700.9,402.1" fill="none" stroke="#fe9666" stroke-width="1.1" stroke-linejoin="round" stroke-opacity="0.9"/>
<polyline points="701.4,378.5 709.6,380.2 710.0,380.1 710.0,380.1 710.0,380.1 729.5,376.7 753.2,373.5 774.3,379.7 799.3,389.2 820.0,401.4 838.5,409.7 856.9,418.9 875.4,430.9 892.1,441.8 893.8,441.8 912.3,441.8 923.4,441.8 934.1,441.8 940.0,441.8 974.1,441.8 974.5,441.8" fill="none" stroke="#fe9666" stroke-width="1.1" stroke-linejoin="round" stroke-opacity="0.9"/>
<polyline points="974.5,419.0 974.5,419.0 1002.3,419.0 1027.2,419.0 1064.5,419.0 1079.5,419.0 1094.4,419.0 1096.7,419.0 1109.4,401.2 1124.2,394.6 1149.1,380.9 1160.0,373.4 1192.4,352.2 1234.7,357.7 1236.8,357.7 1236.8,357.7 1236.8,357.7 1282.0,358.5 1324.4,379.6 1349.8,395.0 1374.8,411.1 1399.7,428.6 1412.1,441.1 1412.8,441.8 1420.0,441.8 1435.7,441.8 1451.3,441.8 1467.0,441.8 1482.7,441.8 1498.4,441.8 1500.8,441.8" fill="none" stroke="#fe9666" stroke-width="1.1" stroke-linejoin="round" stroke-opacity="0.9"/>
<polyline points="1500.8,419.0 1500.8,419.0 1503.0,419.0 1520.0,419.0 1549.2,419.0 1588.5,419.0" fill="none" stroke="#fe9666" stroke-width="1.1" stroke-linejoin="round" stroke-opacity="0.9"/>
<polyline points="52.4,502.0 52.7,502.0" fill="none" stroke="#fd625e" stroke-width="1.0" stroke-linejoin="round" stroke-opacity="0.8"/>
<polyline points="52.7,483.6 52.8,483.6 82.1,483.6 91.8,477.5" fill="none" stroke="#fd625e" stroke-width="1.0" stroke-linejoin="round" stroke-opacity="0.8"/>
<polyline points="92.0,465.7 92.0,461.8 92.0,457.9" fill="none" stroke="#fd625e" stroke-width="1.0" stroke-linejoin="round" stroke-opacity="0.8"/>
<polyline points="92.5,422.5 102.5,417.5 112.5,413.8 122.5,410.0" fill="none" stroke="#fd625e" stroke-width="1.0" stroke-linejoin="round" stroke-opacity="0.8"/>
<polyline points="123.0,398.8 130.0,396.2 140.0,393.8 150.0,395.0 157.5,395.8 164.2,397.5" fill="none" stroke="#fd625e" stroke-width="1.0" stroke-linejoin="round" stroke-opacity="0.8"/>
<polyline points="164.5,407.0 175.0,406.8 185.0,406.2 195.0,405.5 205.0,405.0 208.8,405.0 209.5,408.0 220.0,407.5 227.5,407.5 237.5,410.0 245.0,413.0 252.3,416.2" fill="none" stroke="#fd625e" stroke-width="1.0" stroke-linejoin="round" stroke-opacity="0.8"/>
<polyline points="252.7,435.3 265.8,438.3 278.7,439.6 296.8,437.0 297.5,433.1 304.6,434.4 317.5,437.6 330.4,444.1 343.3,453.1 356.2,460.9 365.0,470.0 377.5,476.2 390.0,482.5 402.5,488.8 404.8,490.6" fill="none" stroke="#fd625e" stroke-width="1.0" stroke-linejoin="round" stroke-opacity="0.8"/>
<polyline points="404.9,483.6 404.9,483.6 408.4,483.6 410.9,483.6 419.6,483.6 432.1,483.6 444.5,483.6 457.0,483.6 473.7,483.6 474.4,483.6 497.4,483.6 518.5,483.6 519.3,483.6 534.7,483.6 547.2,483.6 560.6,483.6 562.1,482.1 562.2,483.6 562.9,483.6 584.5,483.6 598.3,483.6 613.2,477.1" fill="none" stroke="#fd625e" stroke-width="1.0" stroke-linejoin="round" stroke-opacity="0.8"/>
<polyline points="613.5,452.2 634.3,442.3 660.5,424.8" fill="none" stroke="#fd625e" stroke-width="1.0" stroke-linejoin="round" stroke-opacity="0.8"/>
<polyline points="661.2,433.5 700.3,436.0" fill="none" stroke="#fd625e" stroke-width="1.0" stroke-linejoin="round" stroke-opacity="0.8"/>
<polyline points="701.0,410.8 712.0,410.8 729.5,409.6 754.4,408.8 777.2,416.1 802.1,423.6 839.4,431.1 864.3,444.8 889.3,459.7 914.2,473.4 932.7,483.6 939.1,483.6 950.0,483.6 974.9,483.6 1002.3,483.6 1027.2,483.6 1064.5,483.6 1071.9,483.6 1079.5,472.2 1094.4,452.2 1107.5,434.8 1124.9,428.6 1139.3,421.1 1149.8,416.1 1164.2,404.9 1174.7,401.2 1192.2,391.2 1224.5,392.5 1279.3,395.4 1299.3,402.4 1324.2,416.1 1349.8,422.4 1369.8,431.1 1399.7,448.5 1420.0,457.4 1435.7,466.0 1451.3,475.5 1467.0,483.3 1467.5,483.6 1482.7,483.6 1498.4,483.6 1501.5,483.6 1520.0,483.6 1588.5,483.6" fill="none" stroke="#fd625e" stroke-width="1.0" stroke-linejoin="round" stroke-opacity="0.8"/>
<polyline points="52.4,419.5 52.7,419.5 65.0,411.2 77.5,402.5 91.8,392.5" fill="none" stroke="#f2c80f" stroke-width="1.5" stroke-linejoin="round" />
<polyline points="52.4,419.5 52.7,419.5 65.0,411.2 77.5,402.5 91.8,392.5" fill="none" stroke="#f2c80f" stroke-width="2.6" stroke-linejoin="round" stroke-linecap="round" stroke-dasharray="0 6.5"/>
<polyline points="91.8,392.5 92.5,328.8" fill="none" stroke="#f2c80f" stroke-width="2.6" stroke-linejoin="round" stroke-linecap="round" stroke-dasharray="0 6.5"/>
<polyline points="92.5,328.8 102.5,325.0 112.5,321.2 122.5,316.2" fill="none" stroke="#f2c80f" stroke-width="1.5" stroke-linejoin="round" />
<polyline points="92.5,328.8 102.5,325.0 112.5,321.2 122.5,316.2" fill="none" stroke="#f2c80f" stroke-width="2.6" stroke-linejoin="round" stroke-linecap="round" stroke-dasharray="0 6.5"/>
<polyline points="122.5,316.2 123.0,307.5" fill="none" stroke="#f2c80f" stroke-width="2.6" stroke-linejoin="round" stroke-linecap="round" stroke-dasharray="0 6.5"/>
<polyline points="123.0,307.5 130.0,305.0 140.0,302.0 150.0,304.5 157.5,307.5 164.2,310.0" fill="none" stroke="#f2c80f" stroke-width="1.5" stroke-linejoin="round" />
<polyline points="123.0,307.5 130.0,305.0 140.0,302.0 150.0,304.5 157.5,307.5 164.2,310.0" fill="none" stroke="#f2c80f" stroke-width="2.6" stroke-linejoin="round" stroke-linecap="round" stroke-dasharray="0 6.5"/>
<polyline points="164.2,310.0 164.5,323.8" fill="none" stroke="#f2c80f" stroke-width="2.6" stroke-linejoin="round" stroke-linecap="round" stroke-dasharray="0 6.5"/>
<polyline points="164.5,323.8 175.0,325.0 185.0,325.0 195.0,323.0 205.0,321.2 208.8,320.0" fill="none" stroke="#f2c80f" stroke-width="1.5" stroke-linejoin="round" />
<polyline points="164.5,323.8 175.0,325.0 185.0,325.0 195.0,323.0 205.0,321.2 208.8,320.0" fill="none" stroke="#f2c80f" stroke-width="2.6" stroke-linejoin="round" stroke-linecap="round" stroke-dasharray="0 6.5"/>
<polyline points="208.8,320.0 209.5,323.8" fill="none" stroke="#f2c80f" stroke-width="1.8" stroke-linejoin="round" stroke-dasharray="2.8 1.6"/>
<polyline points="209.5,323.8 220.0,322.5 230.0,321.2 237.5,325.0 245.0,330.0 252.5,333.8" fill="none" stroke="#f2c80f" stroke-width="1.5" stroke-linejoin="round" />
<polyline points="209.5,323.8 220.0,322.5 230.0,321.2 237.5,325.0 245.0,330.0 252.5,333.8" fill="none" stroke="#f2c80f" stroke-width="2.6" stroke-linejoin="round" stroke-linecap="round" stroke-dasharray="0 6.5"/>
<polyline points="252.5,333.8 252.7,360.0" fill="none" stroke="#f2c80f" stroke-width="2.6" stroke-linejoin="round" stroke-linecap="round" stroke-dasharray="0 6.5"/>
<polyline points="252.7,360.0 265.0,365.0 277.5,370.0 290.0,376.2" fill="none" stroke="#f2c80f" stroke-width="1.5" stroke-linejoin="round" />
<polyline points="252.7,360.0 265.0,365.0 277.5,370.0 290.0,376.2" fill="none" stroke="#f2c80f" stroke-width="2.6" stroke-linejoin="round" stroke-linecap="round" stroke-dasharray="0 6.5"/>
<polyline points="290.0,376.2 296.2,382.5" fill="none" stroke="#f2c80f" stroke-width="1.8" stroke-linejoin="round" stroke-dasharray="2.8 1.6"/>
<polyline points="296.2,382.5 297.5,371.2" fill="none" stroke="#f2c80f" stroke-width="2.6" stroke-linejoin="round" stroke-linecap="round" stroke-dasharray="0 6.5"/>
<polyline points="297.5,371.2 305.0,380.0 315.0,390.0 321.4,395.0" fill="none" stroke="#f2c80f" stroke-width="1.8" stroke-linejoin="round" stroke-dasharray="2.8 1.6"/>
<polyline points="321.4,395.0 330.4,401.5" fill="none" stroke="#f2c80f" stroke-width="1.5" stroke-linejoin="round" />
<polyline points="321.4,395.0 330.4,401.5" fill="none" stroke="#f2c80f" stroke-width="2.6" stroke-linejoin="round" stroke-linecap="round" stroke-dasharray="0 6.5"/>
<polyline points="330.4,401.5 343.3,413.1" fill="none" stroke="#f2c80f" stroke-width="1.8" stroke-linejoin="round" stroke-dasharray="2.8 1.6"/>
<polyline points="343.3,413.1 345.9,414.4" fill="none" stroke="#f2c80f" stroke-width="1.5" stroke-linejoin="round" />
<polyline points="343.3,413.1 345.9,414.4" fill="none" stroke="#f2c80f" stroke-width="2.6" stroke-linejoin="round" stroke-linecap="round" stroke-dasharray="0 6.5"/>
<polyline points="345.9,414.4 350.0,420.0 357.4,428.6 369.8,439.8 382.3,449.7" fill="none" stroke="#f2c80f" stroke-width="1.8" stroke-linejoin="round" stroke-dasharray="2.8 1.6"/>
<polyline points="382.3,449.7 394.7,458.5 408.4,468.4" fill="none" stroke="#f2c80f" stroke-width="1.5" stroke-linejoin="round" />
<polyline points="382.3,449.7 394.7,458.5 408.4,468.4" fill="none" stroke="#f2c80f" stroke-width="2.6" stroke-linejoin="round" stroke-linecap="round" stroke-dasharray="0 6.5"/>
<polyline points="408.4,468.4 410.9,474.1" fill="none" stroke="#f2c80f" stroke-width="1.8" stroke-linejoin="round" stroke-dasharray="2.8 1.6"/>
<polyline points="410.9,474.1 419.6,474.6 429.6,475.9" fill="none" stroke="#f2c80f" stroke-width="1.5" stroke-linejoin="round" />
<polyline points="410.9,474.1 419.6,474.6 429.6,475.9" fill="none" stroke="#f2c80f" stroke-width="2.6" stroke-linejoin="round" stroke-linecap="round" stroke-dasharray="0 6.5"/>
<polyline points="429.6,475.9 430.8,472.7" fill="none" stroke="#f2c80f" stroke-width="1.8" stroke-linejoin="round" stroke-dasharray="2.8 1.6"/>
<polyline points="430.8,472.7 439.6,474.1 447.0,475.4 460.0,465.9 473.7,456.0" fill="none" stroke="#f2c80f" stroke-width="1.5" stroke-linejoin="round" />
<polyline points="430.8,472.7 439.6,474.1 447.0,475.4 460.0,465.9 473.7,456.0" fill="none" stroke="#f2c80f" stroke-width="2.6" stroke-linejoin="round" stroke-linecap="round" stroke-dasharray="0 6.5"/>
<polyline points="473.7,456.0 474.4,484.6" fill="none" stroke="#f2c80f" stroke-width="2.6" stroke-linejoin="round" stroke-linecap="round" stroke-dasharray="0 6.5"/>
<polyline points="474.4,484.6 484.9,482.1 497.4,475.9 518.5,463.4" fill="none" stroke="#f2c80f" stroke-width="1.5" stroke-linejoin="round" />
<polyline points="474.4,484.6 484.9,482.1 497.4,475.9 518.5,463.4" fill="none" stroke="#f2c80f" stroke-width="2.6" stroke-linejoin="round" stroke-linecap="round" stroke-dasharray="0 6.5"/>
<polyline points="518.5,463.4 519.3,477.1" fill="none" stroke="#f2c80f" stroke-width="2.6" stroke-linejoin="round" stroke-linecap="round" stroke-dasharray="0 6.5"/>
<polyline points="519.3,477.1 534.7,474.6" fill="none" stroke="#f2c80f" stroke-width="1.5" stroke-linejoin="round" />
<polyline points="519.3,477.1 534.7,474.6" fill="none" stroke="#f2c80f" stroke-width="2.6" stroke-linejoin="round" stroke-linecap="round" stroke-dasharray="0 6.5"/>
<polyline points="534.7,474.6 547.2,449.7 562.1,421.1" fill="none" stroke="#f2c80f" stroke-width="1.8" stroke-linejoin="round" stroke-dasharray="2.8 1.6"/>
<polyline points="562.1,421.1 562.9,449.7" fill="none" stroke="#f2c80f" stroke-width="2.6" stroke-linejoin="round" stroke-linecap="round" stroke-dasharray="0 6.5"/>
<polyline points="562.9,449.7 572.1,434.8 584.5,419.9 599.5,404.9 612.5,394.6" fill="none" stroke="#f2c80f" stroke-width="1.8" stroke-linejoin="round" stroke-dasharray="2.8 1.6"/>
<polyline points="612.5,394.6 613.7,361.0" fill="none" stroke="#f2c80f" stroke-width="2.6" stroke-linejoin="round" stroke-linecap="round" stroke-dasharray="0 6.5"/>
<polyline points="613.7,361.0 624.9,352.3" fill="none" stroke="#f2c80f" stroke-width="1.8" stroke-linejoin="round" stroke-dasharray="2.8 1.6"/>
<polyline points="624.9,352.3 644.8,343.6 660.5,336.1" fill="none" stroke="#f2c80f" stroke-width="1.5" stroke-linejoin="round" />
<polyline points="624.9,352.3 644.8,343.6 660.5,336.1" fill="none" stroke="#f2c80f" stroke-width="2.6" stroke-linejoin="round" stroke-linecap="round" stroke-dasharray="0 6.5"/>
<polyline points="660.5,336.1 661.0,345.3" fill="none" stroke="#f2c80f" stroke-width="2.6" stroke-linejoin="round" stroke-linecap="round" stroke-dasharray="0 6.5"/>
<polyline points="661.0,345.3 674.7,347.3 700.9,352.3" fill="none" stroke="#f2c80f" stroke-width="1.5" stroke-linejoin="round" />
<polyline points="661.0,345.3 674.7,347.3 700.9,352.3" fill="none" stroke="#f2c80f" stroke-width="2.6" stroke-linejoin="round" stroke-linecap="round" stroke-dasharray="0 6.5"/>
<polyline points="700.9,352.3 701.4,331.1" fill="none" stroke="#f2c80f" stroke-width="2.6" stroke-linejoin="round" stroke-linecap="round" stroke-dasharray="0 6.5"/>
<polyline points="701.4,331.1 710.8,333.1 729.5,326.9 753.2,319.4 774.3,329.9 799.3,342.3" fill="none" stroke="#f2c80f" stroke-width="1.5" stroke-linejoin="round" />
<polyline points="701.4,331.1 710.8,333.1 729.5,326.9 753.2,319.4 774.3,329.9 799.3,342.3" fill="none" stroke="#f2c80f" stroke-width="2.6" stroke-linejoin="round" stroke-linecap="round" stroke-dasharray="0 6.5"/>
<polyline points="799.3,342.3 811.7,353.5 824.2,364.8 836.6,377.2 849.1,389.7" fill="none" stroke="#f2c80f" stroke-width="1.8" stroke-linejoin="round" stroke-dasharray="2.8 1.6"/>
<polyline points="849.1,389.7 864.3,399.9" fill="none" stroke="#f2c80f" stroke-width="1.5" stroke-linejoin="round" />
<polyline points="849.1,389.7 864.3,399.9" fill="none" stroke="#f2c80f" stroke-width="2.6" stroke-linejoin="round" stroke-linecap="round" stroke-dasharray="0 6.5"/>
<polyline points="864.3,399.9 889.3,424.8 906.7,442.3 919.1,453.5" fill="none" stroke="#f2c80f" stroke-width="1.8" stroke-linejoin="round" stroke-dasharray="2.8 1.6"/>
<polyline points="919.1,453.5 930.3,460.9 940.0,462.2 974.1,467.2" fill="none" stroke="#f2c80f" stroke-width="1.5" stroke-linejoin="round" />
<polyline points="919.1,453.5 930.3,460.9 940.0,462.2 974.1,467.2" fill="none" stroke="#f2c80f" stroke-width="2.6" stroke-linejoin="round" stroke-linecap="round" stroke-dasharray="0 6.5"/>
<polyline points="974.1,467.2 989.8,454.7" fill="none" stroke="#f2c80f" stroke-width="1.8" stroke-linejoin="round" stroke-dasharray="2.8 1.6"/>
<polyline points="989.8,454.7 1022.2,433.5 1059.6,423.6" fill="none" stroke="#f2c80f" stroke-width="1.5" stroke-linejoin="round" />
<polyline points="989.8,454.7 1022.2,433.5 1059.6,423.6" fill="none" stroke="#f2c80f" stroke-width="2.6" stroke-linejoin="round" stroke-linecap="round" stroke-dasharray="0 6.5"/>
<polyline points="1059.6,423.6 1064.5,417.4 1074.5,402.4 1086.8,382.2 1099.3,364.7 1108.0,352.3" fill="none" stroke="#f2c80f" stroke-width="1.8" stroke-linejoin="round" stroke-dasharray="2.8 1.6"/>
<polyline points="1108.0,352.3 1124.2,341.1" fill="none" stroke="#f2c80f" stroke-width="1.5" stroke-linejoin="round" />
<polyline points="1108.0,352.3 1124.2,341.1" fill="none" stroke="#f2c80f" stroke-width="2.6" stroke-linejoin="round" stroke-linecap="round" stroke-dasharray="0 6.5"/>
<polyline points="1124.2,341.1 1149.1,318.6" fill="none" stroke="#f2c80f" stroke-width="1.8" stroke-linejoin="round" stroke-dasharray="2.8 1.6"/>
<polyline points="1149.1,318.6 1160.0,313.6 1170.0,306.2 1192.4,294.9 1237.2,306.9 1279.6,303.2 1300.0,312.5 1324.4,321.1" fill="none" stroke="#f2c80f" stroke-width="1.5" stroke-linejoin="round" />
<polyline points="1149.1,318.6 1160.0,313.6 1170.0,306.2 1192.4,294.9 1237.2,306.9 1279.6,303.2 1300.0,312.5 1324.4,321.1" fill="none" stroke="#f2c80f" stroke-width="2.6" stroke-linejoin="round" stroke-linecap="round" stroke-dasharray="0 6.5"/>
<polyline points="1324.4,321.1 1334.3,332.3 1359.3,362.2 1372.3,380.0 1387.2,395.0 1399.7,409.9 1412.1,426.1 1420.0,432.4" fill="none" stroke="#f2c80f" stroke-width="1.8" stroke-linejoin="round" stroke-dasharray="2.8 1.6"/>
<polyline points="1420.0,432.4 1435.7,442.5" fill="none" stroke="#f2c80f" stroke-width="1.5" stroke-linejoin="round" />
<polyline points="1420.0,432.4 1435.7,442.5" fill="none" stroke="#f2c80f" stroke-width="2.6" stroke-linejoin="round" stroke-linecap="round" stroke-dasharray="0 6.5"/>
<polyline points="1435.7,442.5 1451.3,455.1 1467.0,467.6 1482.7,480.2 1498.4,494.3 1503.0,498.2" fill="none" stroke="#f2c80f" stroke-width="1.8" stroke-linejoin="round" stroke-dasharray="2.8 1.6"/>
<polyline points="1503.0,498.2 1514.0,499.7 1524.3,502.1 1549.2,505.8 1574.1,509.1 1588.5,510.7" fill="none" stroke="#f2c80f" stroke-width="1.5" stroke-linejoin="round" />
<polyline points="1503.0,498.2 1514.0,499.7 1524.3,502.1 1549.2,505.8 1574.1,509.1 1588.5,510.7" fill="none" stroke="#f2c80f" stroke-width="2.6" stroke-linejoin="round" stroke-linecap="round" stroke-dasharray="0 6.5"/>
<polyline points="52.4,468.8 52.7,468.8 91.8,445.0" fill="none" stroke="#fe9666" stroke-width="1.2" stroke-linejoin="round" />
<polyline points="52.4,468.8 52.7,468.8 91.8,445.0" fill="none" stroke="#fe9666" stroke-width="2.6" stroke-linejoin="round" stroke-linecap="round" stroke-dasharray="0 6.5"/>
<polyline points="91.8,445.0 92.5,385.0" fill="none" stroke="#fe9666" stroke-width="2.6" stroke-linejoin="round" stroke-linecap="round" stroke-dasharray="0 6.5"/>
<polyline points="92.5,385.0 102.5,381.2 112.5,377.5 122.5,373.8" fill="none" stroke="#fe9666" stroke-width="1.2" stroke-linejoin="round" />
<polyline points="92.5,385.0 102.5,381.2 112.5,377.5 122.5,373.8" fill="none" stroke="#fe9666" stroke-width="2.6" stroke-linejoin="round" stroke-linecap="round" stroke-dasharray="0 6.5"/>
<polyline points="122.5,373.8 123.0,363.8" fill="none" stroke="#fe9666" stroke-width="2.6" stroke-linejoin="round" stroke-linecap="round" stroke-dasharray="0 6.5"/>
<polyline points="123.0,363.8 130.0,361.2 140.0,358.0 150.0,359.2 157.5,360.8 164.2,362.0" fill="none" stroke="#fe9666" stroke-width="1.2" stroke-linejoin="round" />
<polyline points="123.0,363.8 130.0,361.2 140.0,358.0 150.0,359.2 157.5,360.8 164.2,362.0" fill="none" stroke="#fe9666" stroke-width="2.6" stroke-linejoin="round" stroke-linecap="round" stroke-dasharray="0 6.5"/>
<polyline points="164.2,362.0 164.5,373.8" fill="none" stroke="#fe9666" stroke-width="2.6" stroke-linejoin="round" stroke-linecap="round" stroke-dasharray="0 6.5"/>
<polyline points="164.5,373.8 175.0,374.2 185.0,374.2 195.0,373.0 205.0,372.0 208.8,371.8" fill="none" stroke="#fe9666" stroke-width="1.2" stroke-linejoin="round" />
<polyline points="164.5,373.8 175.0,374.2 185.0,374.2 195.0,373.0 205.0,372.0 208.8,371.8" fill="none" stroke="#fe9666" stroke-width="2.6" stroke-linejoin="round" stroke-linecap="round" stroke-dasharray="0 6.5"/>
<polyline points="208.8,371.8 209.5,374.5" fill="none" stroke="#fe9666" stroke-width="1.8" stroke-linejoin="round" stroke-dasharray="2.8 1.6"/>
<polyline points="209.5,374.5 220.0,373.8 227.5,373.0 237.5,376.2 245.0,380.0 252.3,384.5" fill="none" stroke="#fe9666" stroke-width="1.2" stroke-linejoin="round" />
<polyline points="209.5,374.5 220.0,373.8 227.5,373.0 237.5,376.2 245.0,380.0 252.3,384.5" fill="none" stroke="#fe9666" stroke-width="2.6" stroke-linejoin="round" stroke-linecap="round" stroke-dasharray="0 6.5"/>
<polyline points="252.3,384.5 252.7,406.0" fill="none" stroke="#fe9666" stroke-width="2.6" stroke-linejoin="round" stroke-linecap="round" stroke-dasharray="0 6.5"/>
<polyline points="252.7,406.0 265.8,409.9 278.7,413.1 296.8,415.7" fill="none" stroke="#fe9666" stroke-width="1.2" stroke-linejoin="round" />
<polyline points="252.7,406.0 265.8,409.9 278.7,413.1 296.8,415.7" fill="none" stroke="#fe9666" stroke-width="2.6" stroke-linejoin="round" stroke-linecap="round" stroke-dasharray="0 6.5"/>
<polyline points="296.8,415.7 297.5,407.9" fill="none" stroke="#fe9666" stroke-width="2.6" stroke-linejoin="round" stroke-linecap="round" stroke-dasharray="0 6.5"/>
<polyline points="297.5,407.9 311.0,415.7" fill="none" stroke="#fe9666" stroke-width="1.2" stroke-linejoin="round" />
<polyline points="297.5,407.9 311.0,415.7" fill="none" stroke="#fe9666" stroke-width="2.6" stroke-linejoin="round" stroke-linecap="round" stroke-dasharray="0 6.5"/>
<polyline points="311.0,415.7 324.0,426.0 336.9,436.3" fill="none" stroke="#fe9666" stroke-width="1.8" stroke-linejoin="round" stroke-dasharray="2.8 1.6"/>
<polyline points="336.9,436.3 349.8,441.5" fill="none" stroke="#fe9666" stroke-width="1.2" stroke-linejoin="round" />
<polyline points="336.9,436.3 349.8,441.5" fill="none" stroke="#fe9666" stroke-width="2.6" stroke-linejoin="round" stroke-linecap="round" stroke-dasharray="0 6.5"/>
<polyline points="349.8,441.5 360.0,450.0 370.0,459.0 382.3,469.7" fill="none" stroke="#fe9666" stroke-width="1.8" stroke-linejoin="round" stroke-dasharray="2.8 1.6"/>
<polyline points="382.3,469.7 394.7,477.1 408.4,482.1" fill="none" stroke="#fe9666" stroke-width="1.2" stroke-linejoin="round" />
<polyline points="382.3,469.7 394.7,477.1 408.4,482.1" fill="none" stroke="#fe9666" stroke-width="2.6" stroke-linejoin="round" stroke-linecap="round" stroke-dasharray="0 6.5"/>
<polyline points="408.4,482.1 410.9,487.1" fill="none" stroke="#fe9666" stroke-width="1.8" stroke-linejoin="round" stroke-dasharray="2.8 1.6"/>
<polyline points="410.9,487.1 419.6,489.6 432.1,492.1 444.5,493.3 454.5,492.1 464.5,489.6 474.0,485.9" fill="none" stroke="#fe9666" stroke-width="1.2" stroke-linejoin="round" />
<polyline points="410.9,487.1 419.6,489.6 432.1,492.1 444.5,493.3 454.5,492.1 464.5,489.6 474.0,485.9" fill="none" stroke="#fe9666" stroke-width="2.6" stroke-linejoin="round" stroke-linecap="round" stroke-dasharray="0 6.5"/>
<polyline points="474.0,485.9 474.5,497.1" fill="none" stroke="#fe9666" stroke-width="2.6" stroke-linejoin="round" stroke-linecap="round" stroke-dasharray="0 6.5"/>
<polyline points="474.5,497.1 497.4,494.6 518.5,489.6" fill="none" stroke="#fe9666" stroke-width="1.2" stroke-linejoin="round" />
<polyline points="474.5,497.1 497.4,494.6 518.5,489.6" fill="none" stroke="#fe9666" stroke-width="2.6" stroke-linejoin="round" stroke-linecap="round" stroke-dasharray="0 6.5"/>
<polyline points="518.5,489.6 519.3,497.1" fill="none" stroke="#fe9666" stroke-width="2.6" stroke-linejoin="round" stroke-linecap="round" stroke-dasharray="0 6.5"/>
<polyline points="519.3,497.1 534.7,495.8" fill="none" stroke="#fe9666" stroke-width="1.2" stroke-linejoin="round" />
<polyline points="519.3,497.1 534.7,495.8" fill="none" stroke="#fe9666" stroke-width="2.6" stroke-linejoin="round" stroke-linecap="round" stroke-dasharray="0 6.5"/>
<polyline points="534.7,495.8 547.2,479.6 562.1,459.7" fill="none" stroke="#fe9666" stroke-width="1.8" stroke-linejoin="round" stroke-dasharray="2.8 1.6"/>
<polyline points="562.1,459.7 562.9,482.1" fill="none" stroke="#fe9666" stroke-width="2.6" stroke-linejoin="round" stroke-linecap="round" stroke-dasharray="0 6.5"/>
<polyline points="562.9,482.1 584.5,464.7" fill="none" stroke="#fe9666" stroke-width="1.8" stroke-linejoin="round" stroke-dasharray="2.8 1.6"/>
<polyline points="584.5,464.7 613.2,444.8" fill="none" stroke="#fe9666" stroke-width="1.2" stroke-linejoin="round" />
<polyline points="584.5,464.7 613.2,444.8" fill="none" stroke="#fe9666" stroke-width="2.6" stroke-linejoin="round" stroke-linecap="round" stroke-dasharray="0 6.5"/>
<polyline points="613.2,444.8 613.5,416.1" fill="none" stroke="#fe9666" stroke-width="2.6" stroke-linejoin="round" stroke-linecap="round" stroke-dasharray="0 6.5"/>
<polyline points="613.5,416.1 634.3,404.9 660.5,388.4" fill="none" stroke="#fe9666" stroke-width="1.2" stroke-linejoin="round" />
<polyline points="613.5,416.1 634.3,404.9 660.5,388.4" fill="none" stroke="#fe9666" stroke-width="2.6" stroke-linejoin="round" stroke-linecap="round" stroke-dasharray="0 6.5"/>
<polyline points="660.5,388.4 661.0,399.1" fill="none" stroke="#fe9666" stroke-width="2.6" stroke-linejoin="round" stroke-linecap="round" stroke-dasharray="0 6.5"/>
<polyline points="661.0,399.1 684.2,401.2 700.9,402.1" fill="none" stroke="#fe9666" stroke-width="1.2" stroke-linejoin="round" />
<polyline points="661.0,399.1 684.2,401.2 700.9,402.1" fill="none" stroke="#fe9666" stroke-width="2.6" stroke-linejoin="round" stroke-linecap="round" stroke-dasharray="0 6.5"/>
<polyline points="700.9,402.1 701.4,378.5" fill="none" stroke="#fe9666" stroke-width="2.6" stroke-linejoin="round" stroke-linecap="round" stroke-dasharray="0 6.5"/>
<polyline points="701.4,378.5 709.6,380.2 729.5,376.7 753.2,373.5 774.3,379.7 799.3,389.2 820.0,401.4 838.5,409.7 856.9,418.9 875.4,430.9 893.8,442.9 912.3,454.9" fill="none" stroke="#fe9666" stroke-width="1.2" stroke-linejoin="round" />
<polyline points="701.4,378.5 709.6,380.2 729.5,376.7 753.2,373.5 774.3,379.7 799.3,389.2 820.0,401.4 838.5,409.7 856.9,418.9 875.4,430.9 893.8,442.9 912.3,454.9" fill="none" stroke="#fe9666" stroke-width="2.6" stroke-linejoin="round" stroke-linecap="round" stroke-dasharray="0 6.5"/>
<polyline points="912.3,454.9 923.4,464.1" fill="none" stroke="#fe9666" stroke-width="1.8" stroke-linejoin="round" stroke-dasharray="2.8 1.6"/>
<polyline points="923.4,464.1 934.1,472.0" fill="none" stroke="#fe9666" stroke-width="1.2" stroke-linejoin="round" />
<polyline points="923.4,464.1 934.1,472.0" fill="none" stroke="#fe9666" stroke-width="2.6" stroke-linejoin="round" stroke-linecap="round" stroke-dasharray="0 6.5"/>
<polyline points="934.1,472.0 940.0,478.4" fill="none" stroke="#fe9666" stroke-width="1.8" stroke-linejoin="round" stroke-dasharray="2.8 1.6"/>
<polyline points="940.0,478.4 974.1,489.6 1002.3,479.6 1027.2,473.4 1064.5,467.2" fill="none" stroke="#fe9666" stroke-width="1.2" stroke-linejoin="round" />
<polyline points="940.0,478.4 974.1,489.6 1002.3,479.6 1027.2,473.4 1064.5,467.2" fill="none" stroke="#fe9666" stroke-width="2.6" stroke-linejoin="round" stroke-linecap="round" stroke-dasharray="0 6.5"/>
<polyline points="1064.5,467.2 1079.5,444.8 1094.4,422.3 1109.4,401.2" fill="none" stroke="#fe9666" stroke-width="1.8" stroke-linejoin="round" stroke-dasharray="2.8 1.6"/>
<polyline points="1109.4,401.2 1124.2,394.6 1149.1,380.9 1160.0,373.4 1192.4,352.2 1234.7,357.7 1282.0,358.5 1324.4,379.6 1349.8,395.0 1374.8,411.1 1399.7,428.6" fill="none" stroke="#fe9666" stroke-width="1.2" stroke-linejoin="round" />
<polyline points="1109.4,401.2 1124.2,394.6 1149.1,380.9 1160.0,373.4 1192.4,352.2 1234.7,357.7 1282.0,358.5 1324.4,379.6 1349.8,395.0 1374.8,411.1 1399.7,428.6" fill="none" stroke="#fe9666" stroke-width="2.6" stroke-linejoin="round" stroke-linecap="round" stroke-dasharray="0 6.5"/>
<polyline points="1399.7,428.6 1412.1,441.1 1420.0,448.8" fill="none" stroke="#fe9666" stroke-width="1.8" stroke-linejoin="round" stroke-dasharray="2.8 1.6"/>
<polyline points="1420.0,448.8 1435.7,457.4 1451.3,466.8 1467.0,477.0" fill="none" stroke="#fe9666" stroke-width="1.2" stroke-linejoin="round" />
<polyline points="1420.0,448.8 1435.7,457.4 1451.3,466.8 1467.0,477.0" fill="none" stroke="#fe9666" stroke-width="2.6" stroke-linejoin="round" stroke-linecap="round" stroke-dasharray="0 6.5"/>
<polyline points="1467.0,477.0 1482.7,489.6" fill="none" stroke="#fe9666" stroke-width="1.8" stroke-linejoin="round" stroke-dasharray="2.8 1.6"/>
<polyline points="1482.7,489.6 1498.4,501.3 1503.0,503.7 1520.0,506.0 1549.2,508.3 1588.5,511.2" fill="none" stroke="#fe9666" stroke-width="1.2" stroke-linejoin="round" />
<polyline points="1482.7,489.6 1498.4,501.3 1503.0,503.7 1520.0,506.0 1549.2,508.3 1588.5,511.2" fill="none" stroke="#fe9666" stroke-width="2.6" stroke-linejoin="round" stroke-linecap="round" stroke-dasharray="0 6.5"/>
<polyline points="52.4,493.8 52.7,493.8 91.8,470.0" fill="none" stroke="#b5403e" stroke-width="1.2" stroke-linejoin="round" />
<polyline points="52.4,493.8 52.7,493.8 91.8,470.0" fill="none" stroke="#b5403e" stroke-width="2.6" stroke-linejoin="round" stroke-linecap="round" stroke-dasharray="0 6.5"/>
<polyline points="91.8,470.0 92.5,413.8" fill="none" stroke="#b5403e" stroke-width="2.6" stroke-linejoin="round" stroke-linecap="round" stroke-dasharray="0 6.5"/>
<polyline points="92.5,413.8 102.5,408.8 112.5,405.0 122.5,401.2" fill="none" stroke="#b5403e" stroke-width="1.2" stroke-linejoin="round" />
<polyline points="92.5,413.8 102.5,408.8 112.5,405.0 122.5,401.2" fill="none" stroke="#b5403e" stroke-width="2.6" stroke-linejoin="round" stroke-linecap="round" stroke-dasharray="0 6.5"/>
<polyline points="122.5,401.2 123.0,391.2" fill="none" stroke="#b5403e" stroke-width="2.6" stroke-linejoin="round" stroke-linecap="round" stroke-dasharray="0 6.5"/>
<polyline points="123.0,391.2 130.0,387.5 140.0,384.5 150.0,386.2 157.5,387.0 164.2,387.5" fill="none" stroke="#b5403e" stroke-width="1.2" stroke-linejoin="round" />
<polyline points="123.0,391.2 130.0,387.5 140.0,384.5 150.0,386.2 157.5,387.0 164.2,387.5" fill="none" stroke="#b5403e" stroke-width="2.6" stroke-linejoin="round" stroke-linecap="round" stroke-dasharray="0 6.5"/>
<polyline points="164.2,387.5 164.5,397.5" fill="none" stroke="#b5403e" stroke-width="2.6" stroke-linejoin="round" stroke-linecap="round" stroke-dasharray="0 6.5"/>
<polyline points="164.5,397.5 175.0,398.2 185.0,398.0 195.0,397.5 205.0,396.5 208.8,396.2" fill="none" stroke="#b5403e" stroke-width="1.2" stroke-linejoin="round" />
<polyline points="164.5,397.5 175.0,398.2 185.0,398.0 195.0,397.5 205.0,396.5 208.8,396.2" fill="none" stroke="#b5403e" stroke-width="2.6" stroke-linejoin="round" stroke-linecap="round" stroke-dasharray="0 6.5"/>
<polyline points="208.8,396.2 209.5,400.5" fill="none" stroke="#b5403e" stroke-width="2.6" stroke-linejoin="round" stroke-linecap="round" stroke-dasharray="0 6.5"/>
<polyline points="209.5,400.5 220.0,399.5 227.5,399.5 237.5,402.5 245.0,406.2 252.3,408.6" fill="none" stroke="#b5403e" stroke-width="1.2" stroke-linejoin="round" />
<polyline points="209.5,400.5 220.0,399.5 227.5,399.5 237.5,402.5 245.0,406.2 252.3,408.6" fill="none" stroke="#b5403e" stroke-width="2.6" stroke-linejoin="round" stroke-linecap="round" stroke-dasharray="0 6.5"/>
<polyline points="252.3,408.6 252.7,428.6" fill="none" stroke="#b5403e" stroke-width="2.6" stroke-linejoin="round" stroke-linecap="round" stroke-dasharray="0 6.5"/>
<polyline points="252.7,428.6 265.8,431.8 278.7,432.7 296.8,433.1" fill="none" stroke="#b5403e" stroke-width="1.2" stroke-linejoin="round" />
<polyline points="252.7,428.6 265.8,431.8 278.7,432.7 296.8,433.1" fill="none" stroke="#b5403e" stroke-width="2.6" stroke-linejoin="round" stroke-linecap="round" stroke-dasharray="0 6.5"/>
<polyline points="296.8,433.1 297.5,426.6" fill="none" stroke="#b5403e" stroke-width="2.6" stroke-linejoin="round" stroke-linecap="round" stroke-dasharray="0 6.5"/>
<polyline points="297.5,426.6 308.5,429.9 317.5,434.4 330.4,442.8 343.3,451.8 352.5,458.0" fill="none" stroke="#b5403e" stroke-width="1.2" stroke-linejoin="round" />
<polyline points="297.5,426.6 308.5,429.9 317.5,434.4 330.4,442.8 343.3,451.8 352.5,458.0" fill="none" stroke="#b5403e" stroke-width="2.6" stroke-linejoin="round" stroke-linecap="round" stroke-dasharray="0 6.5"/>
<polyline points="352.5,458.0 365.0,467.5" fill="none" stroke="#b5403e" stroke-width="1.8" stroke-linejoin="round" stroke-dasharray="2.8 1.6"/>
<polyline points="365.0,467.5 377.5,475.0 390.0,481.2 402.5,487.5 408.4,490.8" fill="none" stroke="#b5403e" stroke-width="1.2" stroke-linejoin="round" />
<polyline points="365.0,467.5 377.5,475.0 390.0,481.2 402.5,487.5 408.4,490.8" fill="none" stroke="#b5403e" stroke-width="2.6" stroke-linejoin="round" stroke-linecap="round" stroke-dasharray="0 6.5"/>
<polyline points="408.4,490.8 410.9,494.6" fill="none" stroke="#b5403e" stroke-width="1.8" stroke-linejoin="round" stroke-dasharray="2.8 1.6"/>
<polyline points="410.9,494.6 419.6,497.1 432.1,499.6 444.5,502.0 457.0,502.5 473.7,502.0" fill="none" stroke="#b5403e" stroke-width="1.2" stroke-linejoin="round" />
<polyline points="410.9,494.6 419.6,497.1 432.1,499.6 444.5,502.0 457.0,502.5 473.7,502.0" fill="none" stroke="#b5403e" stroke-width="2.6" stroke-linejoin="round" stroke-linecap="round" stroke-dasharray="0 6.5"/>
<polyline points="473.7,502.0 474.4,505.8" fill="none" stroke="#b5403e" stroke-width="1.8" stroke-linejoin="round" stroke-dasharray="2.8 1.6"/>
<polyline points="474.4,505.8 497.4,504.5 518.5,502.5" fill="none" stroke="#b5403e" stroke-width="1.2" stroke-linejoin="round" />
<polyline points="474.4,505.8 497.4,504.5 518.5,502.5" fill="none" stroke="#b5403e" stroke-width="2.6" stroke-linejoin="round" stroke-linecap="round" stroke-dasharray="0 6.5"/>
<polyline points="518.5,502.5 519.3,507.0" fill="none" stroke="#b5403e" stroke-width="2.6" stroke-linejoin="round" stroke-linecap="round" stroke-dasharray="0 6.5"/>
<polyline points="519.3,507.0 534.7,507.0" fill="none" stroke="#b5403e" stroke-width="1.2" stroke-linejoin="round" />
<polyline points="519.3,507.0 534.7,507.0" fill="none" stroke="#b5403e" stroke-width="2.6" stroke-linejoin="round" stroke-linecap="round" stroke-dasharray="0 6.5"/>
<polyline points="534.7,507.0 547.2,492.1 562.1,474.6" fill="none" stroke="#b5403e" stroke-width="1.8" stroke-linejoin="round" stroke-dasharray="2.8 1.6"/>
<polyline points="562.1,474.6 562.9,495.8" fill="none" stroke="#b5403e" stroke-width="2.6" stroke-linejoin="round" stroke-linecap="round" stroke-dasharray="0 6.5"/>
<polyline points="562.9,495.8 584.5,484.6 613.2,468.4" fill="none" stroke="#b5403e" stroke-width="1.2" stroke-linejoin="round" />
<polyline points="562.9,495.8 584.5,484.6 613.2,468.4" fill="none" stroke="#b5403e" stroke-width="2.6" stroke-linejoin="round" stroke-linecap="round" stroke-dasharray="0 6.5"/>
<polyline points="613.2,468.4 613.5,443.5" fill="none" stroke="#b5403e" stroke-width="2.6" stroke-linejoin="round" stroke-linecap="round" stroke-dasharray="0 6.5"/>
<polyline points="613.5,443.5 634.3,432.3 660.5,416.1" fill="none" stroke="#b5403e" stroke-width="1.2" stroke-linejoin="round" />
<polyline points="613.5,443.5 634.3,432.3 660.5,416.1" fill="none" stroke="#b5403e" stroke-width="2.6" stroke-linejoin="round" stroke-linecap="round" stroke-dasharray="0 6.5"/>
<polyline points="660.5,416.1 661.2,424.8" fill="none" stroke="#b5403e" stroke-width="2.6" stroke-linejoin="round" stroke-linecap="round" stroke-dasharray="0 6.5"/>
<polyline points="661.2,424.8 684.2,426.1 700.3,427.3" fill="none" stroke="#b5403e" stroke-width="1.2" stroke-linejoin="round" />
<polyline points="661.2,424.8 684.2,426.1 700.3,427.3" fill="none" stroke="#b5403e" stroke-width="2.6" stroke-linejoin="round" stroke-linecap="round" stroke-dasharray="0 6.5"/>
<polyline points="700.3,427.3 701.0,402.9" fill="none" stroke="#b5403e" stroke-width="2.6" stroke-linejoin="round" stroke-linecap="round" stroke-dasharray="0 6.5"/>
<polyline points="701.0,402.9 714.9,403.7 752.3,399.9 777.2,408.6 802.1,417.4 820.0,420.8 838.5,425.4 844.0,427.2 856.9,434.6 875.4,445.7 893.8,456.8 912.3,467.8 939.1,484.6 950.0,490.8 974.9,502.0 1002.3,497.1 1027.2,493.3 1064.5,488.3" fill="none" stroke="#b5403e" stroke-width="1.2" stroke-linejoin="round" />
<polyline points="701.0,402.9 714.9,403.7 752.3,399.9 777.2,408.6 802.1,417.4 820.0,420.8 838.5,425.4 844.0,427.2 856.9,434.6 875.4,445.7 893.8,456.8 912.3,467.8 939.1,484.6 950.0,490.8 974.9,502.0 1002.3,497.1 1027.2,493.3 1064.5,488.3" fill="none" stroke="#b5403e" stroke-width="2.6" stroke-linejoin="round" stroke-linecap="round" stroke-dasharray="0 6.5"/>
<polyline points="1064.5,488.3 1079.5,464.7 1094.4,444.8 1109.4,426.1" fill="none" stroke="#b5403e" stroke-width="1.8" stroke-linejoin="round" stroke-dasharray="2.8 1.6"/>
<polyline points="1109.4,426.1 1124.9,417.4 1139.3,409.9 1149.8,404.9 1160.0,400.0 1174.7,391.2 1192.2,382.0 1224.5,383.7 1279.3,386.2 1299.3,395.0 1324.2,407.4 1349.8,414.9 1372.3,426.1 1399.7,444.8 1420.0,455.1 1435.7,464.5 1451.3,473.9 1467.0,482.5 1482.7,491.9 1498.4,502.9 1503.0,506.0 1520.0,507.6 1588.5,511.5" fill="none" stroke="#b5403e" stroke-width="1.2" stroke-linejoin="round" />
<polyline points="1109.4,426.1 1124.9,417.4 1139.3,409.9 1149.8,404.9 1160.0,400.0 1174.7,391.2 1192.2,382.0 1224.5,383.7 1279.3,386.2 1299.3,395.0 1324.2,407.4 1349.8,414.9 1372.3,426.1 1399.7,444.8 1420.0,455.1 1435.7,464.5 1451.3,473.9 1467.0,482.5 1482.7,491.9 1498.4,502.9 1503.0,506.0 1520.0,507.6 1588.5,511.5" fill="none" stroke="#b5403e" stroke-width="2.6" stroke-linejoin="round" stroke-linecap="round" stroke-dasharray="0 6.5"/>
<polyline points="52.4,502.0 52.7,502.0 91.8,477.5" fill="none" stroke="#fd625e" stroke-width="1.2" stroke-linejoin="round" />
<polyline points="52.4,502.0 52.7,502.0 91.8,477.5" fill="none" stroke="#fd625e" stroke-width="2.6" stroke-linejoin="round" stroke-linecap="round" stroke-dasharray="0 6.5"/>
<polyline points="91.8,477.5 92.5,422.5" fill="none" stroke="#fd625e" stroke-width="2.6" stroke-linejoin="round" stroke-linecap="round" stroke-dasharray="0 6.5"/>
<polyline points="92.5,422.5 102.5,417.5 112.5,413.8 122.5,410.0" fill="none" stroke="#fd625e" stroke-width="1.2" stroke-linejoin="round" />
<polyline points="92.5,422.5 102.5,417.5 112.5,413.8 122.5,410.0" fill="none" stroke="#fd625e" stroke-width="2.6" stroke-linejoin="round" stroke-linecap="round" stroke-dasharray="0 6.5"/>
<polyline points="122.5,410.0 123.0,398.8" fill="none" stroke="#fd625e" stroke-width="2.6" stroke-linejoin="round" stroke-linecap="round" stroke-dasharray="0 6.5"/>
<polyline points="123.0,398.8 130.0,396.2 140.0,393.8 150.0,395.0 157.5,395.8 164.2,397.5" fill="none" stroke="#fd625e" stroke-width="1.2" stroke-linejoin="round" />
<polyline points="123.0,398.8 130.0,396.2 140.0,393.8 150.0,395.0 157.5,395.8 164.2,397.5" fill="none" stroke="#fd625e" stroke-width="2.6" stroke-linejoin="round" stroke-linecap="round" stroke-dasharray="0 6.5"/>
<polyline points="164.2,397.5 164.5,407.0" fill="none" stroke="#fd625e" stroke-width="2.6" stroke-linejoin="round" stroke-linecap="round" stroke-dasharray="0 6.5"/>
<polyline points="164.5,407.0 175.0,406.8 185.0,406.2 195.0,405.5 205.0,405.0 208.8,405.0" fill="none" stroke="#fd625e" stroke-width="1.2" stroke-linejoin="round" />
<polyline points="164.5,407.0 175.0,406.8 185.0,406.2 195.0,405.5 205.0,405.0 208.8,405.0" fill="none" stroke="#fd625e" stroke-width="2.6" stroke-linejoin="round" stroke-linecap="round" stroke-dasharray="0 6.5"/>
<polyline points="208.8,405.0 209.5,408.0" fill="none" stroke="#fd625e" stroke-width="1.8" stroke-linejoin="round" stroke-dasharray="2.8 1.6"/>
<polyline points="209.5,408.0 220.0,407.5 227.5,407.5 237.5,410.0 245.0,413.0 252.3,416.2" fill="none" stroke="#fd625e" stroke-width="1.2" stroke-linejoin="round" />
<polyline points="209.5,408.0 220.0,407.5 227.5,407.5 237.5,410.0 245.0,413.0 252.3,416.2" fill="none" stroke="#fd625e" stroke-width="2.6" stroke-linejoin="round" stroke-linecap="round" stroke-dasharray="0 6.5"/>
<polyline points="252.3,416.2 252.7,435.3" fill="none" stroke="#fd625e" stroke-width="2.6" stroke-linejoin="round" stroke-linecap="round" stroke-dasharray="0 6.5"/>
<polyline points="252.7,435.3 265.8,438.3 278.7,439.6 296.8,437.0" fill="none" stroke="#fd625e" stroke-width="1.2" stroke-linejoin="round" />
<polyline points="252.7,435.3 265.8,438.3 278.7,439.6 296.8,437.0" fill="none" stroke="#fd625e" stroke-width="2.6" stroke-linejoin="round" stroke-linecap="round" stroke-dasharray="0 6.5"/>
<polyline points="296.8,437.0 297.5,433.1" fill="none" stroke="#fd625e" stroke-width="1.8" stroke-linejoin="round" stroke-dasharray="2.8 1.6"/>
<polyline points="297.5,433.1 304.6,434.4 317.5,437.6 330.4,444.1 343.3,453.1 356.2,460.9" fill="none" stroke="#fd625e" stroke-width="1.2" stroke-linejoin="round" />
<polyline points="297.5,433.1 304.6,434.4 317.5,437.6 330.4,444.1 343.3,453.1 356.2,460.9" fill="none" stroke="#fd625e" stroke-width="2.6" stroke-linejoin="round" stroke-linecap="round" stroke-dasharray="0 6.5"/>
<polyline points="356.2,460.9 365.0,470.0" fill="none" stroke="#fd625e" stroke-width="1.8" stroke-linejoin="round" stroke-dasharray="2.8 1.6"/>
<polyline points="365.0,470.0 377.5,476.2 390.0,482.5 402.5,488.8" fill="none" stroke="#fd625e" stroke-width="1.2" stroke-linejoin="round" />
<polyline points="365.0,470.0 377.5,476.2 390.0,482.5 402.5,488.8" fill="none" stroke="#fd625e" stroke-width="2.6" stroke-linejoin="round" stroke-linecap="round" stroke-dasharray="0 6.5"/>
<polyline points="402.5,488.8 408.4,493.3 410.9,497.1" fill="none" stroke="#fd625e" stroke-width="1.8" stroke-linejoin="round" stroke-dasharray="2.8 1.6"/>
<polyline points="410.9,497.1 419.6,499.6 432.1,502.0 444.5,504.5 457.0,505.8 473.7,505.8" fill="none" stroke="#fd625e" stroke-width="1.2" stroke-linejoin="round" />
<polyline points="410.9,497.1 419.6,499.6 432.1,502.0 444.5,504.5 457.0,505.8 473.7,505.8" fill="none" stroke="#fd625e" stroke-width="2.6" stroke-linejoin="round" stroke-linecap="round" stroke-dasharray="0 6.5"/>
<polyline points="473.7,505.8 474.4,508.3" fill="none" stroke="#fd625e" stroke-width="1.8" stroke-linejoin="round" stroke-dasharray="2.8 1.6"/>
<polyline points="474.4,508.3 497.4,509.5 518.5,505.8" fill="none" stroke="#fd625e" stroke-width="1.2" stroke-linejoin="round" />
<polyline points="474.4,508.3 497.4,509.5 518.5,505.8" fill="none" stroke="#fd625e" stroke-width="2.6" stroke-linejoin="round" stroke-linecap="round" stroke-dasharray="0 6.5"/>
<polyline points="518.5,505.8 519.3,509.5" fill="none" stroke="#fd625e" stroke-width="1.8" stroke-linejoin="round" stroke-dasharray="2.8 1.6"/>
<polyline points="519.3,509.5 534.7,510.0" fill="none" stroke="#fd625e" stroke-width="1.2" stroke-linejoin="round" />
<polyline points="519.3,509.5 534.7,510.0" fill="none" stroke="#fd625e" stroke-width="2.6" stroke-linejoin="round" stroke-linecap="round" stroke-dasharray="0 6.5"/>
<polyline points="534.7,510.0 547.2,497.1 562.1,482.1" fill="none" stroke="#fd625e" stroke-width="1.8" stroke-linejoin="round" stroke-dasharray="2.8 1.6"/>
<polyline points="562.1,482.1 562.9,500.8" fill="none" stroke="#fd625e" stroke-width="2.6" stroke-linejoin="round" stroke-linecap="round" stroke-dasharray="0 6.5"/>
<polyline points="562.9,500.8 584.5,489.6 613.2,477.1" fill="none" stroke="#fd625e" stroke-width="1.2" stroke-linejoin="round" />
<polyline points="562.9,500.8 584.5,489.6 613.2,477.1" fill="none" stroke="#fd625e" stroke-width="2.6" stroke-linejoin="round" stroke-linecap="round" stroke-dasharray="0 6.5"/>
<polyline points="613.2,477.1 613.5,452.2" fill="none" stroke="#fd625e" stroke-width="2.6" stroke-linejoin="round" stroke-linecap="round" stroke-dasharray="0 6.5"/>
<polyline points="613.5,452.2 634.3,442.3 660.5,424.8" fill="none" stroke="#fd625e" stroke-width="1.2" stroke-linejoin="round" />
<polyline points="613.5,452.2 634.3,442.3 660.5,424.8" fill="none" stroke="#fd625e" stroke-width="2.6" stroke-linejoin="round" stroke-linecap="round" stroke-dasharray="0 6.5"/>
<polyline points="660.5,424.8 661.2,433.5" fill="none" stroke="#fd625e" stroke-width="2.6" stroke-linejoin="round" stroke-linecap="round" stroke-dasharray="0 6.5"/>
<polyline points="661.2,433.5 700.3,436.0" fill="none" stroke="#fd625e" stroke-width="1.2" stroke-linejoin="round" />
<polyline points="661.2,433.5 700.3,436.0" fill="none" stroke="#fd625e" stroke-width="2.6" stroke-linejoin="round" stroke-linecap="round" stroke-dasharray="0 6.5"/>
<polyline points="700.3,436.0 701.0,410.8" fill="none" stroke="#fd625e" stroke-width="2.6" stroke-linejoin="round" stroke-linecap="round" stroke-dasharray="0 6.5"/>
<polyline points="701.0,410.8 712.0,410.8 729.5,409.6 754.4,408.8 777.2,416.1 802.1,423.6 839.4,431.1 864.3,444.8 889.3,459.7 914.2,473.4 939.1,487.1 950.0,493.3 974.9,505.8 1002.3,502.0 1027.2,499.6 1064.5,494.6" fill="none" stroke="#fd625e" stroke-width="1.2" stroke-linejoin="round" />
<polyline points="701.0,410.8 712.0,410.8 729.5,409.6 754.4,408.8 777.2,416.1 802.1,423.6 839.4,431.1 864.3,444.8 889.3,459.7 914.2,473.4 939.1,487.1 950.0,493.3 974.9,505.8 1002.3,502.0 1027.2,499.6 1064.5,494.6" fill="none" stroke="#fd625e" stroke-width="2.6" stroke-linejoin="round" stroke-linecap="round" stroke-dasharray="0 6.5"/>
<polyline points="1064.5,494.6 1079.5,472.2 1094.4,452.2 1107.5,434.8" fill="none" stroke="#fd625e" stroke-width="1.8" stroke-linejoin="round" stroke-dasharray="2.8 1.6"/>
<polyline points="1107.5,434.8 1124.9,428.6 1139.3,421.1 1149.8,416.1" fill="none" stroke="#fd625e" stroke-width="1.2" stroke-linejoin="round" />
<polyline points="1107.5,434.8 1124.9,428.6 1139.3,421.1 1149.8,416.1" fill="none" stroke="#fd625e" stroke-width="2.6" stroke-linejoin="round" stroke-linecap="round" stroke-dasharray="0 6.5"/>
<polyline points="1149.8,416.1 1164.2,404.9" fill="none" stroke="#fd625e" stroke-width="1.8" stroke-linejoin="round" stroke-dasharray="2.8 1.6"/>
<polyline points="1164.2,404.9 1174.7,401.2 1192.2,391.2 1224.5,392.5 1279.3,395.4 1299.3,402.4 1324.2,416.1 1349.8,422.4 1369.8,431.1 1399.7,448.5 1420.0,457.4 1435.7,466.0 1451.3,475.5 1467.0,483.3 1482.7,492.7 1498.4,503.7" fill="none" stroke="#fd625e" stroke-width="1.2" stroke-linejoin="round" />
<polyline points="1164.2,404.9 1174.7,401.2 1192.2,391.2 1224.5,392.5 1279.3,395.4 1299.3,402.4 1324.2,416.1 1349.8,422.4 1369.8,431.1 1399.7,448.5 1420.0,457.4 1435.7,466.0 1451.3,475.5 1467.0,483.3 1482.7,492.7 1498.4,503.7" fill="none" stroke="#fd625e" stroke-width="2.6" stroke-linejoin="round" stroke-linecap="round" stroke-dasharray="0 6.5"/>
<polyline points="1498.4,503.7 1501.5,506.8" fill="none" stroke="#fd625e" stroke-width="1.8" stroke-linejoin="round" stroke-dasharray="2.8 1.6"/>
<polyline points="1501.5,506.8 1520.0,508.4 1588.5,511.9" fill="none" stroke="#fd625e" stroke-width="1.2" stroke-linejoin="round" />
<polyline points="1501.5,506.8 1520.0,508.4 1588.5,511.9" fill="none" stroke="#fd625e" stroke-width="2.6" stroke-linejoin="round" stroke-linecap="round" stroke-dasharray="0 6.5"/>
<polyline points="52.7,423.6 183.8,423.6 183.8,447.0 447.2,447.0 447.2,423.6 710.0,423.6 710.0,446.9 974.3,446.9 974.3,423.8 1236.6,423.8 1236.6,446.9 1500.6,446.9 1500.6,423.6 1590.3,423.6" fill="none" stroke="#3127c2" stroke-width="1.2" stroke-linejoin="round" />
<polyline points="52.7,423.6 183.8,423.6 183.8,447.0 447.2,447.0 447.2,423.6 710.0,423.6 710.0,446.9 974.3,446.9 974.3,423.8 1236.6,423.8 1236.6,446.9 1500.6,446.9 1500.6,423.6 1590.3,423.6" fill="none" stroke="#3127c2" stroke-width="3.2" stroke-linejoin="round" stroke-dasharray="9 6 2.5 4"/>
<polyline points="52.4,243.7 52.7,243.7 56.9,240.5 62.5,242.8 68.0,246.5 71.7,248.3 73.5,242.8 77.2,244.6 80.0,242.8 80.9,216.9 82.8,204.0 86.5,194.8 88.8,194.0 91.1,192.9 92.5,176.5 95.0,173.5 98.8,174.5 102.5,172.0 107.0,166.5 110.0,170.2 115.0,177.8 118.0,182.0 120.0,178.5 125.0,179.8 128.8,184.0 132.5,186.5 136.2,190.2 141.2,196.0 145.0,195.2 150.0,198.5 155.0,202.8 160.0,206.5 163.8,211.2 168.8,218.8 173.8,228.8 177.5,223.8 181.2,221.2 185.0,223.8 190.0,230.0 196.2,238.8 198.0,232.5 199.5,210.0 201.2,184.0 203.8,177.0 207.5,175.2 212.5,174.0 217.5,177.8 220.0,176.0 223.8,172.8 230.0,175.2 233.8,179.0 237.5,186.5 242.5,197.8 247.5,210.0 252.5,218.8 257.5,225.0 262.5,235.0 267.5,246.2 270.0,252.5 273.8,251.2 277.5,255.0 282.5,263.8 290.0,272.5 295.0,275.0 300.0,281.2 305.0,288.8 310.0,297.5 315.0,299.5 317.5,294.0 322.5,298.0 330.0,310.0 337.5,322.5 345.0,332.5 352.5,343.8 357.5,342.5 362.5,346.2 367.5,353.8 372.5,361.2 377.5,362.5 382.5,361.2 387.5,362.5 392.5,367.0 396.2,358.8 400.6,350.7 403.9,339.1 406.5,326.2 407.7,309.4 409.0,295.2 412.3,290.0 413.8,287.5 417.5,275.0 420.0,263.8 422.5,256.2 426.2,253.2 430.0,255.0 435.0,251.2 440.0,246.2 442.5,241.2 445.0,241.2 450.0,245.0 455.0,241.2 460.0,232.5 465.0,231.2 470.0,233.8 475.0,241.2 480.0,245.0 482.5,232.5 485.0,215.0 486.2,206.5 490.0,200.2 495.0,196.5 502.5,192.8 505.0,184.0 506.2,171.5 508.8,162.8 512.5,159.0 516.2,151.5 522.5,147.0 527.5,150.2 532.5,153.5 537.5,151.5 541.2,151.5 545.0,146.0 548.8,137.8 552.5,129.0 556.2,122.8 557.5,116.5 561.2,112.8 566.2,114.0 570.0,117.0 575.0,119.5 580.0,121.5 586.2,127.8 592.5,134.0 600.0,142.8 605.0,150.2 612.5,160.2 620.0,170.2 627.5,179.0 635.0,189.0 642.5,200.2 650.0,212.5 660.0,222.5 670.0,231.2 677.5,238.8 685.0,247.5 688.8,251.2 692.5,241.2 697.5,237.5" fill="none" stroke="#000000" stroke-width="3.0" stroke-linejoin="round" stroke-linecap="round"/>
<polygon points="93.2,501.6 87.0,513.8 99.4,513.8" fill="#52c220"/>
<polygon points="123.5,501.6 117.3,513.8 129.7,513.8" fill="#52c220"/>
<polygon points="165.0,501.6 158.8,513.8 171.2,513.8" fill="#52c220"/>
<polygon points="210.0,501.6 203.8,513.8 216.2,513.8" fill="#52c220"/>
<polygon points="253.3,501.6 247.1,513.8 259.5,513.8" fill="#52c220"/>
<polygon points="297.8,501.6 291.6,513.8 304.0,513.8" fill="#52c220"/>
<polygon points="345.6,501.6 339.4,513.8 351.8,513.8" fill="#52c220"/>
<polygon points="386.2,501.6 380.0,513.8 392.4,513.8" fill="#52c220"/>
<polygon points="410.6,501.6 404.4,513.8 416.8,513.8" fill="#52c220"/>
<polygon points="432.4,501.6 426.2,513.8 438.6,513.8" fill="#52c220"/>
<polygon points="472.5,501.6 466.3,513.8 478.7,513.8" fill="#52c220"/>
<polygon points="520.2,501.6 514.0,513.8 526.4,513.8" fill="#52c220"/>
<polygon points="563.6,501.6 557.4,513.8 569.8,513.8" fill="#52c220"/>
<polygon points="614.0,501.6 607.8,513.8 620.2,513.8" fill="#52c220"/>
<polygon points="658.2,501.6 652.0,513.8 664.4,513.8" fill="#52c220"/>
<polygon points="662.6,501.6 656.4,513.8 668.8,513.8" fill="#52c220"/>
<polygon points="702.3,501.6 696.1,513.8 708.5,513.8" fill="#52c220"/>
<text x="8.3" y="95.2" font-size="16.8" fill="#777777" textLength="16.0" lengthAdjust="spacingAndGlyphs">4K</text>
<text x="8.4" y="200.8" font-size="16.8" fill="#777777" textLength="16.0" lengthAdjust="spacingAndGlyphs">3K</text>
<text x="8.4" y="306.4" font-size="16.8" fill="#777777" textLength="16.0" lengthAdjust="spacingAndGlyphs">2K</text>
<text x="9.5" y="411.8" font-size="16.8" fill="#777777" textLength="14.9" lengthAdjust="spacingAndGlyphs">1K</text>
<text x="8.5" y="517.9" font-size="16.8" fill="#777777" textLength="15.9" lengthAdjust="spacingAndGlyphs">0K</text>
<text x="21.4" y="534.1" font-size="17.4" fill="#777777" textLength="63.8" lengthAdjust="spacingAndGlyphs">Jan 2024</text>
<text x="286.0" y="534.1" font-size="17.4" fill="#777777" textLength="59.5" lengthAdjust="spacingAndGlyphs">Jul 2024</text>
<text x="550.0" y="534.1" font-size="17.4" fill="#777777" textLength="63.3" lengthAdjust="spacingAndGlyphs">Jan 2025</text>
<text x="813.0" y="534.1" font-size="17.4" fill="#777777" textLength="59.5" lengthAdjust="spacingAndGlyphs">Jul 2025</text>
<text x="1076.3" y="534.1" font-size="17.4" fill="#777777" textLength="63.7" lengthAdjust="spacingAndGlyphs">Jan 2026</text>
<text x="1340.0" y="534.1" font-size="17.4" fill="#777777" textLength="59.5" lengthAdjust="spacingAndGlyphs">Jul 2026</text>
<text x="6.9" y="19.8" font-size="21.2" fill="#26b8ac" textLength="614" lengthAdjust="spacingAndGlyphs">Base Case South Island Electricity Risk Status Curves (Available GWh)</text>
<rect x="5.9" y="49.3" width="14.8" height="4" fill="#01b8aa"/>
<text x="22.6" y="57.3" font-size="14.8" fill="#686868" textLength="148.4" lengthAdjust="spacingAndGlyphs">10th to 90th Percentile</text>
<rect x="177.0" y="49.3" width="14.8" height="4" fill="#8ee0d8"/>
<text x="193.8" y="57.3" font-size="14.8" fill="#686868" textLength="99.0" lengthAdjust="spacingAndGlyphs">Nominal SI Full</text>
<rect x="300.7" y="49.3" width="14.8" height="4" fill="#000000"/>
<text x="316.5" y="57.3" font-size="14.8" fill="#686868" textLength="172.8" lengthAdjust="spacingAndGlyphs">Available SI Hydro Storage</text>
<rect x="497.0" y="49.3" width="14.8" height="4" fill="#01b8aa"/>
<text x="513.2" y="57.3" font-size="14.8" fill="#686868" textLength="107.4" lengthAdjust="spacingAndGlyphs">Mean SI Storage</text>
<rect x="626.4" y="49.3" width="14.8" height="4" fill="#f2c80f"/>
<text x="644.0" y="57.3" font-size="14.8" fill="#686868" textLength="40.8" lengthAdjust="spacingAndGlyphs">Watch</text>
<rect x="692.8" y="49.3" width="14.8" height="4" fill="#fe9666"/>
<text x="708.8" y="57.3" font-size="14.8" fill="#686868" textLength="30.2" lengthAdjust="spacingAndGlyphs">Alert</text>
<rect x="747.0" y="49.3" width="14.8" height="4" fill="#fd625e"/>
<text x="762.8" y="57.3" font-size="14.8" fill="#686868" textLength="72.0" lengthAdjust="spacingAndGlyphs">Emergency</text>
<rect x="841.6" y="49.3" width="14.8" height="4" fill="#f2c80f"/>
<text x="857.6" y="57.3" font-size="14.8" fill="#686868" textLength="51.2" lengthAdjust="spacingAndGlyphs">1% Risk</text>
<rect x="916.0" y="49.3" width="14.8" height="4" fill="#fe9666"/>
<text x="932.0" y="57.3" font-size="14.8" fill="#686868" textLength="50.0" lengthAdjust="spacingAndGlyphs">4% Risk</text>
<rect x="990.0" y="49.3" width="14.8" height="4" fill="#b5403e"/>
<text x="1005.6" y="57.3" font-size="14.8" fill="#686868" textLength="50.4" lengthAdjust="spacingAndGlyphs">8% Risk</text>
<rect x="1062.0" y="49.3" width="14.8" height="4" fill="#fd625e"/>
<text x="1078.0" y="57.3" font-size="14.8" fill="#686868" textLength="59.0" lengthAdjust="spacingAndGlyphs">10% Risk</text>
<rect x="1144.8" y="49.3" width="14.8" height="4" fill="#1010b4"/>
<text x="1160.0" y="57.3" font-size="14.8" fill="#686868" textLength="74.0" lengthAdjust="spacingAndGlyphs">Contingent</text></svg>
</body></html>
